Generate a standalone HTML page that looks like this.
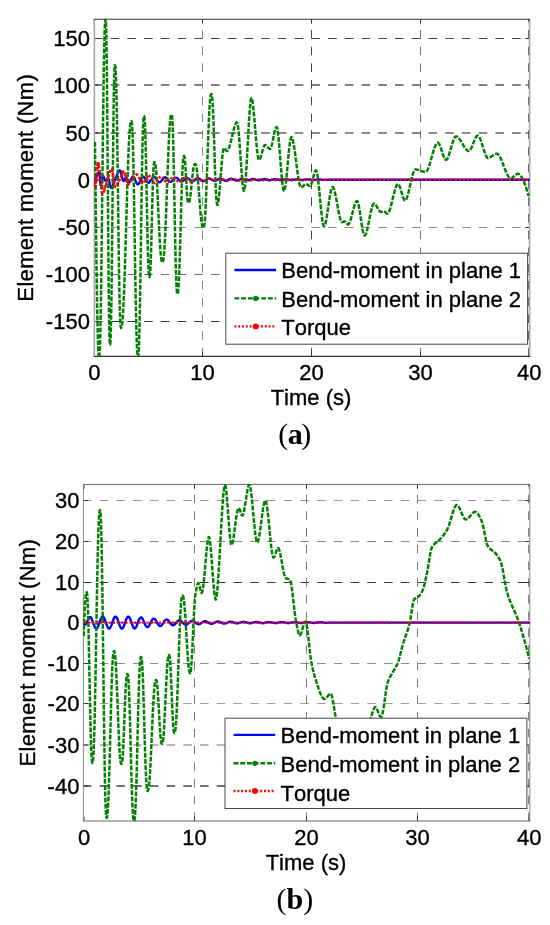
<!DOCTYPE html>
<html lang="en"><head><meta charset="utf-8"><title>Element moment</title>
<style>
html,body{margin:0;padding:0;background:#fff}
svg{display:block}
text{font-family:"Liberation Sans",Arial,Helvetica,sans-serif;fill:#000;stroke:#000;stroke-width:.35px;font-kerning:none}
.tl{font-size:22px}
.lg{font-size:22px}
.ax{font-size:22px}
.cap{font-family:"Liberation Serif","Times New Roman",serif;font-size:30px;stroke:none}
.grid{stroke-dasharray:8.6 8.13;fill:none}
.tick{stroke:#333;stroke-width:1}
.side{stroke:#a8a8a8;stroke-width:1.6}
.edge{stroke:#333;stroke-width:1.1}
.g{fill:none;stroke:#058005;stroke-width:2.5;stroke-dasharray:4.8 1.4;stroke-linejoin:round}
.b{fill:none;stroke:#0000ff;stroke-width:2.4;stroke-linejoin:round}
.r{fill:none;stroke:#ff0000;stroke-width:2.4;stroke-dasharray:2.2 2;stroke-linejoin:round}
</style></head><body>
<svg width="550" height="925" viewBox="0 0 550 925">
<rect width="550" height="925" fill="#fff"/>

<clipPath id="ct"><rect x="93.8" y="18.6" width="436.4" height="338.4"/></clipPath>
<line x1="93.9" y1="38.5" x2="529.6" y2="38.5" class="grid" stroke="#444" stroke-width="1"/>
<line x1="93.9" y1="85.0" x2="529.6" y2="85.0" class="grid" stroke="#5a5a5a" stroke-width="1.3"/>
<line x1="93.9" y1="133.0" x2="529.6" y2="133.0" class="grid" stroke="#666" stroke-width="1.3"/>
<line x1="93.9" y1="180.0" x2="529.6" y2="180.0" class="grid" stroke="#4a4a4a" stroke-width="1"/>
<line x1="93.9" y1="227.5" x2="529.6" y2="227.5" class="grid" stroke="#8c8c8c" stroke-width="1"/>
<line x1="93.9" y1="274.5" x2="529.6" y2="274.5" class="grid" stroke="#707070" stroke-width="1"/>
<line x1="93.9" y1="321.5" x2="529.6" y2="321.5" class="grid" stroke="#383838" stroke-width="1"/>
<line x1="202.5" y1="356.4" x2="202.5" y2="19.2" class="grid" stroke="#888" stroke-width="1"/>
<line x1="311.5" y1="356.4" x2="311.5" y2="19.2" class="grid" stroke="#444" stroke-width="1"/>
<line x1="420.5" y1="356.4" x2="420.5" y2="19.2" class="grid" stroke="#777" stroke-width="1"/>
<line x1="528.6" y1="356.4" x2="528.6" y2="19.2" class="grid" stroke="#555" stroke-width="1"/>
<line x1="94.4" y1="38.5" x2="98.80000000000001" y2="38.5" class="tick"/>
<line x1="529.6" y1="38.5" x2="525.2" y2="38.5" class="tick"/>
<text x="89.9" y="46.1" text-anchor="end" class="tl">150</text>
<line x1="94.4" y1="85.0" x2="98.80000000000001" y2="85.0" class="tick"/>
<line x1="529.6" y1="85.0" x2="525.2" y2="85.0" class="tick"/>
<text x="89.9" y="92.6" text-anchor="end" class="tl">100</text>
<line x1="94.4" y1="133.0" x2="98.80000000000001" y2="133.0" class="tick"/>
<line x1="529.6" y1="133.0" x2="525.2" y2="133.0" class="tick"/>
<text x="89.9" y="140.6" text-anchor="end" class="tl">50</text>
<line x1="94.4" y1="180.0" x2="98.80000000000001" y2="180.0" class="tick"/>
<line x1="529.6" y1="180.0" x2="525.2" y2="180.0" class="tick"/>
<text x="89.9" y="187.6" text-anchor="end" class="tl">0</text>
<line x1="94.4" y1="227.5" x2="98.80000000000001" y2="227.5" class="tick"/>
<line x1="529.6" y1="227.5" x2="525.2" y2="227.5" class="tick"/>
<text x="89.9" y="235.1" text-anchor="end" class="tl">-50</text>
<line x1="94.4" y1="274.5" x2="98.80000000000001" y2="274.5" class="tick"/>
<line x1="529.6" y1="274.5" x2="525.2" y2="274.5" class="tick"/>
<text x="89.9" y="282.1" text-anchor="end" class="tl">-100</text>
<line x1="94.4" y1="321.5" x2="98.80000000000001" y2="321.5" class="tick"/>
<line x1="529.6" y1="321.5" x2="525.2" y2="321.5" class="tick"/>
<text x="89.9" y="329.1" text-anchor="end" class="tl">-150</text>
<line x1="94.3" y1="356.4" x2="94.3" y2="352.0" class="tick"/>
<line x1="94.3" y1="19.2" x2="94.3" y2="23.6" class="tick"/>
<text x="94.3" y="380.0" text-anchor="middle" class="tl">0</text>
<line x1="202.5" y1="356.4" x2="202.5" y2="352.0" class="tick"/>
<line x1="202.5" y1="19.2" x2="202.5" y2="23.6" class="tick"/>
<text x="202.5" y="380.0" text-anchor="middle" class="tl">10</text>
<line x1="311.5" y1="356.4" x2="311.5" y2="352.0" class="tick"/>
<line x1="311.5" y1="19.2" x2="311.5" y2="23.6" class="tick"/>
<text x="311.5" y="380.0" text-anchor="middle" class="tl">20</text>
<line x1="420.5" y1="356.4" x2="420.5" y2="352.0" class="tick"/>
<line x1="420.5" y1="19.2" x2="420.5" y2="23.6" class="tick"/>
<text x="420.5" y="380.0" text-anchor="middle" class="tl">30</text>
<line x1="529.2" y1="356.4" x2="529.2" y2="352.0" class="tick"/>
<line x1="529.2" y1="19.2" x2="529.2" y2="23.6" class="tick"/>
<text x="529.2" y="380.0" text-anchor="middle" class="tl">40</text>
<line x1="94.4" y1="19.2" x2="94.4" y2="356.4" stroke="#a8a8a8" stroke-width="1.6"/>
<line x1="529.6" y1="19.2" x2="529.6" y2="356.4" stroke="#a8a8a8" stroke-width="1.6"/>
<line x1="93.9" y1="19.2" x2="530.1" y2="19.2" stroke="#333" stroke-width="1.1"/>
<line x1="93.9" y1="356.4" x2="530.1" y2="356.4" stroke="#333" stroke-width="1.1"/>
<g clip-path="url(#ct)">
<path class="b" d="M94.4,180.0 L94.8,179.5 L95.2,178.9 L95.6,178.4 L96.0,177.7 L96.4,177.1 L96.8,176.4 L97.2,175.6 L97.6,174.6 L98.0,173.4 L98.4,172.3 L98.8,171.5 L99.2,171.0 L99.6,172.7 L100.0,178.3 L100.4,183.8 L100.8,185.4 L101.2,184.3 L101.6,182.3 L102.0,179.8 L102.4,177.6 L102.8,176.2 L103.2,176.1 L103.6,176.7 L104.0,177.8 L104.4,178.9 L104.8,180.0 L105.2,180.8 L105.6,181.0 L106.0,180.7 L106.4,180.1 L106.8,179.4 L107.2,178.7 L107.6,178.2 L108.0,178.0 L108.4,178.5 L108.8,179.7 L109.2,181.4 L109.6,183.3 L110.0,185.2 L110.4,186.7 L110.8,187.6 L111.2,187.7 L111.6,187.4 L112.0,186.9 L112.4,186.2 L112.8,185.3 L113.2,184.3 L113.6,183.3 L114.0,182.2 L114.4,181.1 L114.8,180.1 L115.2,179.1 L115.6,178.3 L116.0,177.4 L116.4,176.5 L116.8,175.5 L117.2,174.4 L117.6,173.5 L118.0,172.5 L118.4,171.7 L118.8,171.1 L119.2,170.6 L119.6,170.3 L120.0,170.4 L120.4,171.0 L120.8,172.1 L121.2,173.6 L121.6,175.2 L122.0,176.9 L122.4,178.5 L122.8,179.8 L123.2,180.7 L123.6,181.0 L124.0,180.7 L124.4,180.1 L124.8,179.2 L125.2,178.4 L125.6,177.8 L126.0,177.5 L126.4,177.7 L126.8,178.4 L127.2,179.3 L127.6,180.2 L128.0,181.2 L128.4,182.0 L128.8,182.4 L129.2,182.5 L129.6,182.1 L130.0,181.6 L130.4,180.8 L130.8,179.9 L131.2,179.1 L131.6,178.2 L132.0,177.4 L132.4,176.9 L132.8,176.5 L133.2,176.5 L133.6,176.8 L134.0,177.4 L134.4,178.1 L134.8,179.0 L135.2,180.0 L135.6,180.9 L136.0,181.9 L136.4,182.8 L136.8,183.5 L137.2,184.1 L137.6,184.4 L138.0,184.4 L138.4,184.1 L138.8,183.7 L139.2,183.0 L139.6,182.3 L140.0,181.5 L140.4,180.6 L140.8,179.7 L141.2,178.9 L141.6,178.2 L142.0,177.5 L142.4,177.1 L142.8,176.8 L143.2,176.8 L143.6,177.0 L144.0,177.3 L144.4,177.8 L144.8,178.3 L145.2,178.9 L145.6,179.5 L146.0,180.2 L146.4,180.8 L146.8,181.4 L147.2,181.9 L147.6,182.3 L148.0,182.6 L148.4,182.7 L148.8,182.7 L149.2,182.4 L149.6,182.1 L150.0,181.6 L150.4,181.1 L150.8,180.5 L151.2,179.9 L151.6,179.3 L152.0,178.7 L152.4,178.1 L152.8,177.6 L153.2,177.3 L153.6,177.0 L154.0,176.9 L154.4,177.0 L154.8,177.2 L155.2,177.6 L155.6,178.0 L156.0,178.5 L156.4,179.1 L156.8,179.7 L157.2,180.2 L157.6,180.8 L158.0,181.3 L158.4,181.7 L158.8,182.0 L159.2,182.2 L159.6,182.3 L160.0,182.1 L160.4,181.9 L160.8,181.6 L161.2,181.1 L161.6,180.7 L162.0,180.1 L162.4,179.6 L162.8,179.1 L163.2,178.6 L163.6,178.1 L164.0,177.8 L164.4,177.5 L164.8,177.3 L165.2,177.3 L165.6,177.5 L166.0,177.7 L166.4,178.1 L166.8,178.5 L167.2,178.9 L167.6,179.4 L168.0,179.9 L168.4,180.4 L168.8,180.9 L169.2,181.2 L169.6,181.6 L170.0,181.8 L170.4,181.9 L170.8,181.9 L171.2,181.7 L171.6,181.5 L172.0,181.1 L172.4,180.7 L172.8,180.3 L173.2,179.8 L173.6,179.4 L174.0,178.9 L174.4,178.5 L174.8,178.2 L175.2,177.9 L175.6,177.7 L176.0,177.7 L176.4,177.7 L176.8,177.9 L177.2,178.2 L177.6,178.5 L178.0,178.8 L178.4,179.3 L178.8,179.7 L179.2,180.1 L179.6,180.5 L180.0,180.9 L180.4,181.2 L180.8,181.4 L181.2,181.5 L181.6,181.6 L182.0,181.5 L182.4,181.3 L182.8,181.1 L183.2,180.8 L183.6,180.4 L184.0,180.0 L184.4,179.6 L184.8,179.2 L185.2,178.9 L185.6,178.6 L186.0,178.3 L186.4,178.1 L186.8,178.0 L187.2,178.0 L187.6,178.1 L188.0,178.3 L188.4,178.5 L188.8,178.8 L189.2,179.1 L189.6,179.5 L190.0,179.9 L190.4,180.2 L190.8,180.5 L191.2,180.8 L191.6,181.1 L192.0,181.2 L192.4,181.3 L192.8,181.3 L193.2,181.2 L193.6,181.0 L194.0,180.7 L194.4,180.5 L194.8,180.1 L195.2,179.8 L195.6,179.5 L196.0,179.1 L196.4,178.9 L196.8,178.6 L197.2,178.4 L197.6,178.3 L198.0,178.2 L198.4,178.3 L198.8,178.4 L199.2,178.6 L199.6,178.8 L200.0,179.1 L200.4,179.4 L200.8,179.7 L201.2,180.0 L201.6,180.3 L202.0,180.5 L202.4,180.8 L202.8,180.9 L203.2,181.0 L203.6,181.1 L204.0,181.0 L204.4,180.9 L204.8,180.7 L205.2,180.5 L205.6,180.2 L206.0,179.9 L206.4,179.6 L206.8,179.4 L207.2,179.1 L207.6,178.9 L208.0,178.7 L208.4,178.5 L208.8,178.4 L209.2,178.4 L209.6,178.5 L210.0,178.6 L210.4,178.8 L210.8,179.0 L211.2,179.3 L211.6,179.6 L212.0,179.8 L212.4,180.1 L212.8,180.3 L213.2,180.5 L213.6,180.7 L214.0,180.8 L214.4,180.9 L214.8,180.8 L215.2,180.8 L215.6,180.6 L216.0,180.5 L216.4,180.2 L216.8,180.0 L217.2,179.8 L217.6,179.5 L218.0,179.3 L218.4,179.1 L218.8,178.9 L219.2,178.7 L219.6,178.7 L220.0,178.6 L220.4,178.7 L220.8,178.7 L221.2,178.9 L221.6,179.0 L222.0,179.2 L222.4,179.5 L222.8,179.7 L223.2,179.9 L223.6,180.1 L224.0,180.3 L224.4,180.5 L224.8,180.6 L225.2,180.7 L225.6,180.7 L226.0,180.7 L226.4,180.6 L226.8,180.4 L227.2,180.3 L227.6,180.1 L228.0,179.9 L228.4,179.7 L228.8,179.5 L229.2,179.3 L229.6,179.1 L230.0,178.9 L230.4,178.8 L230.8,178.8 L231.2,178.8 L231.6,178.8 L232.0,178.9 L232.4,179.1 L232.8,179.2 L233.2,179.4 L233.6,179.6 L234.0,179.8 L234.4,180.0 L234.8,180.1 L235.2,180.3 L235.6,180.4 L236.0,180.5 L236.4,180.6 L236.8,180.5 L237.2,180.5 L237.6,180.4 L238.0,180.3 L238.4,180.1 L238.8,179.9 L239.2,179.8 L239.6,179.6 L240.0,179.4 L240.4,179.2 L240.8,179.1 L241.2,179.0 L241.6,178.9 L242.0,178.9 L242.4,178.9 L242.8,179.0 L243.2,179.1 L243.6,179.2 L244.0,179.4 L244.4,179.5 L244.8,179.7 L245.2,179.9 L245.6,180.0 L246.0,180.2 L246.4,180.3 L246.8,180.4 L247.2,180.4 L247.6,180.4 L248.0,180.4 L248.4,180.3 L248.8,180.2 L249.2,180.1 L249.6,180.0 L250.0,179.8 L250.4,179.7 L250.8,179.5 L251.2,179.4 L251.6,179.3 L252.0,179.1 L252.4,179.1 L252.8,179.0 L253.2,179.0 L253.6,179.1 L254.0,179.1 L254.4,179.2 L254.8,179.4 L255.2,179.5 L255.6,179.6 L256.0,179.8 L256.4,179.9 L256.8,180.0 L257.2,180.1 L257.6,180.2 L258.0,180.3 L258.4,180.3 L258.8,180.3 L259.2,180.3 L259.6,180.2 L260.0,180.1 L260.4,180.0 L260.8,179.9 L261.2,179.7 L261.6,179.6 L262.0,179.5 L262.4,179.4 L262.8,179.3 L263.2,179.2 L263.6,179.1 L264.0,179.1 L264.4,179.1 L264.8,179.2 L265.2,179.3 L265.6,179.4 L266.0,179.5 L266.4,179.6 L266.8,179.7 L267.2,179.8 L267.6,179.9 L268.0,180.0 L268.4,180.1 L268.8,180.2 L269.2,180.2 L269.6,180.2 L270.0,180.2 L270.4,180.2 L270.8,180.1 L271.2,180.0 L271.6,179.9 L272.0,179.8 L272.4,179.7 L272.8,179.6 L273.2,179.5 L273.6,179.4 L274.0,179.3 L274.4,179.2 L274.8,179.2 L275.2,179.2 L275.6,179.2 L276.0,179.3 L276.4,179.4 L276.8,179.4 L277.2,179.5 L277.6,179.6 L278.0,179.7 L278.4,179.8 L278.8,179.9 L279.2,180.0 L279.6,180.1 L280.0,180.1 L280.4,180.2 L280.8,180.1 L281.2,180.1 L281.6,180.1 L282.0,180.0 L282.4,179.9 L282.8,179.8 L283.2,179.7 L283.6,179.6 L284.0,179.5 L284.4,179.5 L284.8,179.4 L285.2,179.3 L285.6,179.3 L286.0,179.3 L286.4,179.3 L286.8,179.3 L287.2,179.4 L287.6,179.4 L288.0,179.5 L288.4,179.6 L288.8,179.7 L289.2,179.8 L289.6,179.9 L290.0,179.9 L290.4,180.0 L290.8,180.1 L291.2,180.1 L291.6,180.1 L292.0,180.1 L292.4,180.0 L292.8,180.0 L293.2,179.9 L293.6,179.8 L294.0,179.8 L294.4,179.7 L294.8,179.6 L295.2,179.5 L295.6,179.5 L296.0,179.4 L296.4,179.4 L296.8,179.3 L297.2,179.3 L297.6,179.4 L298.0,179.4 L298.4,179.5 L298.8,179.5 L299.2,179.6 L299.6,179.7 L300.0,179.7 L300.4,179.8 L300.8,179.9 L301.2,179.9 L301.6,180.0 L302.0,180.0 L302.4,180.0 L302.8,180.0 L303.2,180.0 L303.6,180.0 L304.0,179.9 L304.4,179.9 L304.8,179.8 L305.2,179.7 L305.6,179.7 L306.0,179.6 L306.4,179.5 L306.8,179.5 L307.2,179.4 L307.6,179.4 L308.0,179.4 L308.4,179.4 L308.8,179.4 L309.2,179.5 L309.6,179.5 L310.0,179.6 L310.4,179.6 L310.8,179.7 L311.2,179.8 L311.6,179.8 L312.0,179.9 L312.4,179.9 L312.8,180.0 L313.2,180.0 L313.6,180.0 L314.0,180.0 L314.4,179.9 L314.8,179.9 L315.2,179.9 L315.6,179.8 L316.0,179.7 L316.4,179.7 L316.8,179.6 L317.2,179.6 L317.6,179.5 L318.0,179.5 L318.4,179.5 L318.8,179.4 L319.2,179.4 L319.6,179.5 L320.0,179.5 L320.4,179.5 L320.8,179.6 L321.2,179.6 L321.6,179.7 L322.0,179.7 L322.4,179.8 L322.8,179.8 L323.2,179.9 L323.6,179.9 L324.0,179.9 L324.4,179.9 L324.8,179.9 L325.2,179.9 L325.6,179.9 L326.0,179.9 L326.4,179.9 L326.8,179.9 L327.2,179.9 L327.6,179.8 L328.0,179.8 L328.4,179.8 L328.8,179.8 L329.2,179.7 L329.6,179.7 L330.0,179.7 L330.4,179.7 L330.8,179.7 L529.6,179.7"/>
<path class="g" d="M95.0,142.0 L95.4,178.4 L95.8,212.5 L96.2,243.8 L96.6,272.0 L97.0,296.9 L97.4,318.0 L97.8,335.0 L98.2,347.5 L98.6,355.3 L99.0,358.0 L99.4,356.4 L99.8,350.4 L100.2,338.5 L100.6,320.3 L101.0,296.0 L101.4,266.5 L101.8,233.2 L102.2,197.5 L102.6,161.5 L103.0,126.8 L103.4,95.2 L103.8,68.2 L104.2,46.8 L104.6,31.8 L105.0,22.9 L105.4,19.3 L105.8,19.8 L106.2,28.6 L106.6,50.3 L107.0,85.3 L107.4,130.8 L107.8,182.0 L108.2,233.2 L108.6,278.7 L109.0,313.7 L109.4,335.4 L109.8,344.2 L110.2,344.5 L110.6,338.9 L111.0,324.9 L111.4,302.0 L111.8,271.0 L112.2,234.4 L112.6,195.1 L113.0,156.8 L113.4,122.6 L113.8,95.5 L114.2,77.0 L114.6,67.4 L115.0,65.0 L115.4,66.5 L115.8,72.4 L116.2,83.9 L116.6,101.3 L117.0,124.1 L117.4,151.2 L117.8,181.1 L118.2,211.9 L118.6,241.8 L119.0,268.9 L119.4,291.7 L119.8,309.1 L120.2,320.6 L120.6,326.5 L121.0,328.0 L121.4,327.7 L121.8,326.4 L122.2,323.9 L122.6,319.9 L123.0,314.4 L123.4,307.4 L123.8,298.8 L124.2,288.9 L124.6,277.6 L125.0,265.3 L125.4,252.2 L125.8,238.5 L126.2,224.5 L126.6,210.5 L127.0,196.8 L127.4,183.7 L127.8,171.4 L128.2,160.1 L128.6,150.2 L129.0,141.6 L129.4,134.6 L129.8,129.1 L130.2,125.1 L130.6,122.6 L131.0,121.3 L131.4,121.0 L131.8,122.1 L132.2,126.3 L132.6,134.6 L133.0,147.3 L133.4,164.2 L133.8,184.7 L134.2,207.9 L134.6,232.7 L135.0,257.8 L135.4,282.0 L135.8,304.0 L136.2,322.8 L136.6,337.6 L137.0,348.1 L137.4,354.3 L137.8,356.8 L138.2,356.7 L138.6,353.5 L139.0,345.7 L139.4,332.4 L139.8,313.9 L140.2,290.8 L140.6,264.5 L141.0,236.5 L141.4,208.5 L141.8,182.2 L142.2,159.1 L142.6,140.6 L143.0,127.3 L143.4,119.5 L143.8,116.3 L144.2,116.2 L144.6,119.0 L145.0,125.7 L145.4,136.8 L145.8,152.2 L146.2,170.7 L146.6,191.2 L147.0,212.2 L147.4,231.9 L147.8,249.0 L148.2,262.3 L148.6,271.2 L149.0,275.8 L149.4,277.0 L149.8,276.0 L150.2,272.1 L150.6,264.5 L151.0,253.3 L151.4,239.3 L151.8,223.5 L152.2,207.4 L152.6,192.4 L153.0,179.7 L153.4,170.3 L153.8,164.5 L154.2,162.2 L154.6,162.1 L155.0,162.7 L155.4,164.4 L155.8,167.3 L156.2,171.4 L156.6,176.8 L157.0,183.4 L157.4,190.9 L157.8,199.1 L158.2,207.8 L158.6,216.6 L159.0,225.3 L159.4,233.5 L159.8,241.0 L160.2,247.6 L160.6,253.0 L161.0,257.1 L161.4,260.0 L161.8,261.7 L162.2,262.3 L162.6,262.3 L163.0,261.6 L163.4,259.8 L163.8,256.8 L164.2,252.3 L164.6,246.4 L165.0,239.2 L165.4,230.7 L165.8,221.1 L166.2,210.7 L166.6,199.7 L167.0,188.4 L167.4,177.1 L167.8,166.1 L168.2,155.7 L168.6,146.1 L169.0,137.6 L169.4,130.4 L169.8,124.5 L170.2,120.0 L170.6,117.0 L171.0,115.2 L171.4,114.5 L171.8,114.6 L172.2,117.2 L172.6,123.5 L173.0,134.2 L173.4,149.0 L173.8,167.3 L174.2,187.9 L174.6,209.7 L175.0,231.0 L175.4,250.6 L175.8,267.3 L176.2,280.1 L176.6,288.6 L177.0,292.9 L177.4,294.0 L177.8,293.4 L178.2,290.9 L178.6,286.1 L179.0,278.6 L179.4,268.8 L179.8,256.8 L180.2,243.2 L180.6,228.7 L181.0,214.0 L181.4,199.9 L181.8,187.0 L182.2,176.0 L182.6,167.3 L183.0,161.2 L183.4,157.6 L183.8,156.1 L184.2,156.1 L184.6,157.4 L185.0,160.5 L185.4,165.6 L185.8,172.1 L186.2,179.5 L186.6,186.9 L187.0,193.4 L187.4,198.5 L187.8,201.6 L188.2,202.9 L188.6,203.0 L189.0,202.5 L189.4,201.5 L189.8,199.8 L190.2,197.3 L190.6,194.2 L191.0,190.6 L191.4,186.6 L191.8,182.5 L192.2,178.4 L192.6,174.5 L193.0,171.1 L193.4,168.3 L193.8,166.2 L194.2,164.9 L194.6,164.2 L195.0,164.0 L195.4,164.2 L195.8,164.8 L196.2,166.1 L196.6,168.1 L197.0,170.8 L197.4,174.3 L197.8,178.4 L198.2,183.0 L198.6,188.0 L199.0,193.3 L199.4,198.7 L199.8,204.0 L200.2,209.0 L200.6,213.6 L201.0,217.7 L201.4,221.2 L201.8,223.9 L202.2,225.9 L202.6,227.2 L203.0,227.8 L203.4,228.0 L203.8,227.6 L204.2,226.1 L204.6,223.1 L205.0,218.4 L205.4,212.0 L205.8,204.0 L206.2,194.6 L206.6,184.1 L207.0,172.7 L207.4,161.0 L207.8,149.3 L208.2,137.9 L208.6,127.4 L209.0,118.0 L209.4,110.0 L209.8,103.6 L210.2,98.9 L210.6,95.9 L211.0,94.4 L211.4,94.0 L211.8,94.6 L212.2,97.1 L212.6,102.0 L213.0,109.3 L213.4,118.9 L213.8,130.4 L214.2,143.0 L214.6,156.0 L215.0,168.6 L215.4,180.1 L215.8,189.7 L216.2,197.0 L216.6,201.9 L217.0,204.4 L217.4,205.0 L217.8,204.4 L218.2,202.7 L218.6,200.0 L219.0,196.6 L219.4,192.5 L219.8,187.9 L220.2,182.9 L220.6,177.8 L221.0,172.6 L221.4,167.6 L221.8,162.8 L222.2,158.4 L222.6,154.6 L223.0,151.5 L223.4,149.3 L223.8,148.2 L224.2,148.0 L224.6,148.3 L225.0,148.8 L225.4,149.4 L225.8,149.9 L226.2,150.5 L226.6,150.9 L227.0,151.0 L227.4,150.9 L227.8,150.5 L228.2,149.9 L228.6,149.0 L229.0,148.0 L229.4,146.8 L229.8,145.5 L230.2,144.1 L230.6,142.5 L231.0,140.9 L231.4,139.3 L231.8,137.6 L232.2,135.8 L232.6,134.1 L233.0,132.5 L233.4,130.9 L233.8,129.3 L234.2,127.9 L234.6,126.6 L235.0,125.4 L235.4,124.4 L235.8,123.5 L236.2,122.9 L236.6,122.5 L237.0,122.4 L237.4,123.0 L237.8,124.9 L238.2,127.8 L238.6,131.5 L239.0,136.0 L239.4,141.1 L239.8,146.5 L240.2,152.3 L240.6,158.2 L241.0,164.0 L241.4,169.6 L241.8,174.9 L242.2,179.7 L242.6,183.9 L243.0,187.2 L243.4,189.6 L243.8,190.8 L244.2,190.8 L244.6,189.3 L245.0,186.4 L245.4,182.3 L245.8,177.2 L246.2,171.2 L246.6,164.6 L247.0,157.5 L247.4,150.1 L247.8,142.6 L248.2,135.1 L248.6,127.9 L249.0,121.0 L249.4,114.7 L249.8,109.2 L250.2,104.5 L250.6,101.0 L251.0,98.8 L251.4,98.0 L251.8,98.5 L252.2,99.9 L252.6,102.1 L253.0,105.1 L253.4,108.6 L253.8,112.6 L254.2,117.0 L254.6,121.7 L255.0,126.6 L255.4,131.4 L255.8,136.3 L256.2,141.0 L256.6,145.4 L257.0,149.4 L257.4,152.9 L257.8,155.9 L258.2,158.1 L258.6,159.5 L259.0,160.0 L259.4,159.8 L259.8,159.3 L260.2,158.4 L260.6,157.4 L261.0,156.1 L261.4,154.7 L261.8,153.2 L262.2,151.8 L262.6,150.3 L263.0,148.9 L263.4,147.6 L263.8,146.6 L264.2,145.7 L264.6,145.2 L265.0,145.0 L265.4,145.1 L265.8,145.3 L266.2,145.6 L266.6,146.0 L267.0,146.4 L267.4,146.9 L267.8,147.4 L268.2,147.8 L268.6,148.2 L269.0,148.6 L269.4,148.8 L269.8,149.0 L270.2,148.9 L270.6,148.5 L271.0,147.6 L271.4,146.5 L271.8,145.0 L272.2,143.3 L272.6,141.4 L273.0,139.5 L273.4,137.5 L273.8,135.5 L274.2,133.6 L274.6,131.8 L275.0,130.3 L275.4,128.9 L275.8,127.9 L276.2,127.2 L276.6,127.0 L277.0,127.5 L277.4,129.1 L277.8,131.5 L278.2,134.7 L278.6,138.5 L279.0,142.8 L279.4,147.6 L279.8,152.6 L280.2,157.7 L280.6,162.9 L281.0,168.0 L281.4,172.8 L281.8,177.4 L282.2,181.5 L282.6,185.0 L283.0,187.8 L283.4,189.8 L283.8,190.9 L284.2,190.9 L284.6,190.0 L285.0,188.3 L285.4,185.9 L285.8,183.0 L286.2,179.5 L286.6,175.7 L287.0,171.6 L287.4,167.3 L287.8,162.9 L288.2,158.6 L288.6,154.3 L289.0,150.4 L289.4,146.7 L289.8,143.5 L290.2,140.8 L290.6,138.8 L291.0,137.5 L291.4,137.0 L291.8,137.3 L292.2,138.0 L292.6,139.2 L293.0,140.7 L293.4,142.7 L293.8,144.9 L294.2,147.4 L294.6,150.1 L295.0,152.9 L295.4,156.0 L295.8,159.1 L296.2,162.2 L296.6,165.3 L297.0,168.4 L297.4,171.5 L297.8,174.3 L298.2,177.0 L298.6,179.5 L299.0,181.7 L299.4,183.7 L299.8,185.2 L300.2,186.4 L300.6,187.1 L301.0,187.4 L301.4,187.3 L301.8,187.2 L302.2,186.9 L302.6,186.6 L303.0,186.2 L303.4,185.8 L303.8,185.4 L304.2,185.0 L304.6,184.7 L305.0,184.4 L305.4,184.1 L305.8,184.0 L306.2,184.0 L306.6,184.1 L307.0,184.3 L307.4,184.6 L307.8,184.9 L308.2,185.1 L308.6,185.4 L309.0,185.7 L309.4,185.9 L309.8,186.0 L310.2,185.9 L310.6,185.6 L311.0,184.8 L311.4,183.8 L311.8,182.6 L312.2,181.2 L312.6,179.8 L313.0,178.2 L313.4,176.6 L313.8,175.2 L314.2,173.8 L314.6,172.6 L315.0,171.6 L315.4,170.8 L315.8,170.5 L316.2,170.5 L316.6,171.3 L317.0,172.8 L317.4,174.9 L317.8,177.6 L318.2,180.8 L318.6,184.3 L319.0,188.1 L319.4,192.1 L319.8,196.3 L320.2,200.5 L320.6,204.7 L321.0,208.7 L321.4,212.5 L321.8,216.0 L322.2,219.2 L322.6,221.9 L323.0,224.0 L323.4,225.5 L323.8,226.3 L324.2,226.3 L324.6,225.9 L325.0,224.9 L325.4,223.6 L325.8,221.9 L326.2,220.0 L326.6,217.8 L327.0,215.4 L327.4,212.8 L327.8,210.1 L328.2,207.4 L328.6,204.6 L329.0,201.9 L329.4,199.3 L329.8,196.8 L330.2,194.5 L330.6,192.4 L331.0,190.6 L331.4,189.1 L331.8,188.0 L332.2,187.2 L332.6,187.0 L333.0,187.2 L333.4,187.7 L333.8,188.6 L334.2,189.7 L334.6,191.1 L335.0,192.7 L335.4,194.5 L335.8,196.4 L336.2,198.5 L336.6,200.6 L337.0,202.8 L337.4,205.1 L337.8,207.3 L338.2,209.5 L338.6,211.6 L339.0,213.6 L339.4,215.4 L339.8,217.1 L340.2,218.6 L340.6,219.9 L341.0,220.9 L341.4,221.6 L341.8,222.0 L342.2,222.0 L342.6,221.9 L343.0,221.9 L343.4,221.8 L343.8,221.7 L344.2,221.6 L344.6,221.5 L345.0,221.5 L345.4,221.6 L345.8,222.0 L346.2,222.5 L346.6,223.1 L347.0,223.6 L347.4,224.1 L347.8,224.4 L348.2,224.4 L348.6,224.1 L349.0,223.6 L349.4,222.9 L349.8,222.0 L350.2,220.9 L350.6,219.7 L351.0,218.3 L351.4,216.9 L351.8,215.4 L352.2,213.9 L352.6,212.3 L353.0,210.8 L353.4,209.2 L353.8,207.8 L354.2,206.4 L354.6,205.1 L355.0,204.0 L355.4,203.0 L355.8,202.1 L356.2,201.5 L356.6,201.1 L357.0,201.0 L357.4,201.3 L357.8,202.1 L358.2,203.3 L358.6,205.0 L359.0,206.9 L359.4,209.2 L359.8,211.6 L360.2,214.2 L360.6,216.9 L361.0,219.7 L361.4,222.4 L361.8,225.0 L362.2,227.4 L362.6,229.7 L363.0,231.6 L363.4,233.3 L363.8,234.5 L364.2,235.3 L364.6,235.6 L365.0,235.4 L365.4,234.9 L365.8,234.2 L366.2,233.1 L366.6,231.9 L367.0,230.4 L367.4,228.8 L367.8,227.0 L368.2,225.1 L368.6,223.1 L369.0,221.1 L369.4,219.1 L369.8,217.1 L370.2,215.1 L370.6,213.1 L371.0,211.3 L371.4,209.6 L371.8,208.0 L372.2,206.7 L372.6,205.5 L373.0,204.6 L373.4,204.0 L373.8,203.6 L374.2,203.6 L374.6,203.8 L375.0,204.1 L375.4,204.5 L375.8,205.0 L376.2,205.6 L376.6,206.2 L377.0,206.9 L377.4,207.6 L377.8,208.3 L378.2,209.0 L378.6,209.7 L379.0,210.3 L379.4,210.9 L379.8,211.3 L380.2,211.7 L380.6,211.9 L381.0,212.0 L381.4,212.0 L381.8,211.9 L382.2,211.8 L382.6,211.7 L383.0,211.6 L383.4,211.6 L383.8,211.5 L384.2,211.5 L384.6,211.7 L385.0,211.9 L385.4,212.3 L385.8,212.6 L386.2,213.0 L386.6,213.3 L387.0,213.5 L387.4,213.6 L387.8,213.5 L388.2,213.1 L388.6,212.5 L389.0,211.8 L389.4,210.8 L389.8,209.7 L390.2,208.5 L390.6,207.1 L391.0,205.7 L391.4,204.1 L391.8,202.5 L392.2,200.9 L392.6,199.2 L393.0,197.5 L393.4,195.9 L393.8,194.3 L394.2,192.7 L394.6,191.2 L395.0,189.8 L395.4,188.5 L395.8,187.3 L396.2,186.3 L396.6,185.4 L397.0,184.7 L397.4,184.3 L397.8,184.0 L398.2,184.0 L398.6,184.3 L399.0,184.9 L399.4,185.7 L399.8,186.7 L400.2,187.9 L400.6,189.1 L401.0,190.5 L401.4,191.9 L401.8,193.3 L402.2,194.7 L402.6,196.0 L403.0,197.2 L403.4,198.3 L403.8,199.2 L404.2,199.9 L404.6,200.3 L405.0,200.5 L405.4,200.4 L405.8,200.0 L406.2,199.4 L406.6,198.5 L407.0,197.5 L407.4,196.3 L407.8,195.0 L408.2,193.5 L408.6,191.9 L409.0,190.2 L409.4,188.5 L409.8,186.7 L410.2,184.9 L410.6,183.2 L411.0,181.4 L411.4,179.7 L411.8,178.0 L412.2,176.4 L412.6,174.9 L413.0,173.6 L413.4,172.4 L413.8,171.4 L414.2,170.5 L414.6,169.9 L415.0,169.5 L415.4,169.4 L415.8,169.4 L416.2,169.4 L416.6,169.5 L417.0,169.6 L417.4,169.7 L417.8,169.8 L418.2,169.9 L418.6,170.0 L419.0,170.2 L419.4,170.3 L419.8,170.5 L420.2,170.6 L420.6,170.8 L421.0,170.9 L421.4,171.1 L421.8,171.2 L422.2,171.3 L422.6,171.5 L423.0,171.6 L423.4,171.7 L423.8,171.8 L424.2,171.9 L424.6,171.9 L425.0,172.0 L425.4,172.0 L425.8,171.9 L426.2,171.7 L426.6,171.3 L427.0,170.8 L427.4,170.1 L427.8,169.3 L428.2,168.4 L428.6,167.4 L429.0,166.2 L429.4,165.0 L429.8,163.8 L430.2,162.4 L430.6,161.1 L431.0,159.7 L431.4,158.2 L431.8,156.8 L432.2,155.4 L432.6,154.0 L433.0,152.6 L433.4,151.3 L433.8,150.0 L434.2,148.8 L434.6,147.6 L435.0,146.6 L435.4,145.6 L435.8,144.8 L436.2,144.1 L436.6,143.5 L437.0,143.1 L437.4,142.8 L437.8,142.7 L438.2,142.8 L438.6,143.2 L439.0,143.7 L439.4,144.4 L439.8,145.3 L440.2,146.2 L440.6,147.3 L441.0,148.5 L441.4,149.7 L441.8,150.9 L442.2,152.2 L442.6,153.4 L443.0,154.6 L443.4,155.7 L443.8,156.8 L444.2,157.7 L444.6,158.5 L445.0,159.1 L445.4,159.5 L445.8,159.8 L446.2,159.8 L446.6,159.6 L447.0,159.1 L447.4,158.6 L447.8,157.8 L448.2,156.9 L448.6,155.9 L449.0,154.7 L449.4,153.5 L449.8,152.2 L450.2,150.9 L450.6,149.5 L451.0,148.1 L451.4,146.7 L451.8,145.3 L452.2,144.0 L452.6,142.7 L453.0,141.5 L453.4,140.3 L453.8,139.3 L454.2,138.4 L454.6,137.6 L455.0,137.1 L455.4,136.6 L455.8,136.4 L456.2,136.4 L456.6,136.5 L457.0,136.7 L457.4,136.9 L457.8,137.2 L458.2,137.5 L458.6,138.0 L459.0,138.4 L459.4,138.9 L459.8,139.5 L460.2,140.1 L460.6,140.7 L461.0,141.3 L461.4,142.0 L461.8,142.7 L462.2,143.4 L462.6,144.0 L463.0,144.7 L463.4,145.4 L463.8,146.1 L464.2,146.7 L464.6,147.3 L465.0,147.9 L465.4,148.5 L465.8,149.0 L466.2,149.4 L466.6,149.9 L467.0,150.2 L467.4,150.5 L467.8,150.7 L468.2,150.9 L468.6,151.0 L469.0,151.0 L469.4,150.8 L469.8,150.5 L470.2,150.0 L470.6,149.4 L471.0,148.6 L471.4,147.8 L471.8,146.9 L472.2,146.0 L472.6,145.0 L473.0,143.9 L473.4,142.9 L473.8,141.9 L474.2,140.9 L474.6,139.9 L475.0,139.0 L475.4,138.2 L475.8,137.4 L476.2,136.8 L476.6,136.2 L477.0,135.9 L477.4,135.7 L477.8,135.6 L478.2,135.8 L478.6,136.1 L479.0,136.6 L479.4,137.2 L479.8,138.0 L480.2,138.9 L480.6,139.9 L481.0,141.0 L481.4,142.2 L481.8,143.4 L482.2,144.7 L482.6,146.0 L483.0,147.3 L483.4,148.6 L483.8,149.9 L484.2,151.1 L484.6,152.3 L485.0,153.4 L485.4,154.4 L485.8,155.4 L486.2,156.2 L486.6,156.9 L487.0,157.4 L487.4,157.8 L487.8,158.0 L488.2,158.0 L488.6,157.9 L489.0,157.8 L489.4,157.7 L489.8,157.5 L490.2,157.3 L490.6,157.1 L491.0,156.8 L491.4,156.6 L491.8,156.3 L492.2,156.0 L492.6,155.7 L493.0,155.4 L493.4,155.1 L493.8,154.9 L494.2,154.6 L494.6,154.4 L495.0,154.2 L495.4,154.0 L495.8,153.9 L496.2,153.8 L496.6,153.7 L497.0,153.7 L497.4,153.8 L497.8,154.1 L498.2,154.4 L498.6,154.8 L499.0,155.3 L499.4,155.9 L499.8,156.6 L500.2,157.4 L500.6,158.2 L501.0,159.0 L501.4,159.9 L501.8,160.9 L502.2,161.9 L502.6,162.9 L503.0,163.9 L503.4,165.0 L503.8,166.1 L504.2,167.1 L504.6,168.2 L505.0,169.2 L505.4,170.2 L505.8,171.2 L506.2,172.2 L506.6,173.1 L507.0,173.9 L507.4,174.7 L507.8,175.5 L508.2,176.2 L508.6,176.8 L509.0,177.3 L509.4,177.7 L509.8,178.0 L510.2,178.3 L510.6,178.4 L511.0,178.4 L511.4,178.3 L511.8,178.1 L512.2,177.9 L512.6,177.6 L513.0,177.3 L513.4,176.9 L513.8,176.5 L514.2,176.1 L514.6,175.8 L515.0,175.4 L515.4,175.0 L515.8,174.7 L516.2,174.4 L516.6,174.1 L517.0,173.9 L517.4,173.8 L517.8,173.8 L518.2,173.9 L518.6,174.0 L519.0,174.2 L519.4,174.4 L519.8,174.7 L520.2,175.1 L520.6,175.6 L521.0,176.1 L521.4,176.7 L521.8,177.3 L522.2,178.0 L522.6,178.7 L523.0,179.6 L523.4,180.4 L523.8,181.3 L524.2,182.3 L524.6,183.3 L525.0,184.4 L525.4,185.5 L525.8,186.6 L526.2,187.9 L526.6,189.1 L527.0,190.4 L527.4,191.7 L527.8,193.1 L528.2,194.5 L528.6,196.0"/>
<path class="r" d="M94.4,181.0 L94.8,183.9 L95.2,185.5 L95.6,186.0 L96.0,184.2 L96.4,179.8 L96.8,174.0 L97.2,168.2 L97.6,163.8 L98.0,162.0 L98.4,162.7 L98.8,164.8 L99.2,167.8 L99.6,171.5 L100.0,175.7 L100.4,180.0 L100.8,184.2 L101.2,187.9 L101.6,190.9 L102.0,193.0 L102.4,193.7 L102.8,193.5 L103.2,193.0 L103.6,192.2 L104.0,191.1 L104.4,189.9 L104.8,188.5 L105.2,187.1 L105.6,185.6 L106.0,184.2 L106.4,182.8 L106.8,181.6 L107.2,180.4 L107.6,179.2 L108.0,177.9 L108.4,176.5 L108.8,175.1 L109.2,173.8 L109.6,172.5 L110.0,171.4 L110.4,170.4 L110.8,169.7 L111.2,169.2 L111.6,169.0 L112.0,169.6 L112.4,171.1 L112.8,173.3 L113.2,175.9 L113.6,178.7 L114.0,181.5 L114.4,183.9 L114.8,185.8 L115.2,186.9 L115.6,187.0 L116.0,186.7 L116.4,186.3 L116.8,185.7 L117.2,185.0 L117.6,184.1 L118.0,183.3 L118.4,182.3 L118.8,181.4 L119.2,180.6 L119.6,179.8 L120.0,178.9 L120.4,177.9 L120.8,176.8 L121.2,175.7 L121.6,174.6 L122.0,173.6 L122.4,172.7 L122.8,172.0 L123.2,171.6 L123.6,171.4 L124.0,171.7 L124.4,172.5 L124.8,173.8 L125.2,175.3 L125.6,177.0 L126.0,178.8 L126.4,180.5 L126.8,182.0 L127.2,183.3 L127.6,184.1 L128.0,184.4 L128.4,184.3 L128.8,184.0 L129.2,183.6 L129.6,183.1 L130.0,182.5 L130.4,181.9 L130.8,181.2 L131.2,180.6 L131.6,180.0 L132.0,179.5 L132.4,179.0 L132.8,178.5 L133.2,178.0 L133.6,177.4 L134.0,176.8 L134.4,176.3 L134.8,175.8 L135.2,175.4 L135.6,175.1 L136.0,174.8 L136.4,174.6 L136.8,174.6 L137.2,174.8 L137.6,175.1 L138.0,175.6 L138.4,176.2 L138.8,176.9 L139.2,177.7 L139.6,178.5 L140.0,179.3 L140.4,180.1 L140.8,180.9 L141.2,181.5 L141.6,182.1 L142.0,182.5 L142.4,182.7 L142.8,182.8 L143.2,182.7 L143.6,182.4 L144.0,182.0 L144.4,181.5 L144.8,181.0 L145.2,180.3 L145.6,179.7 L146.0,179.0 L146.4,178.3 L146.8,177.7 L147.2,177.1 L147.6,176.6 L148.0,176.2 L148.4,175.9 L148.8,175.7 L149.2,175.7 L149.6,175.9 L150.0,176.3 L150.4,176.8 L150.8,177.3 L151.2,178.0 L151.6,178.8 L152.0,179.5 L152.4,180.3 L152.8,181.0 L153.2,181.7 L153.6,182.3 L154.0,182.8 L154.4,183.1 L154.8,183.3 L155.2,183.3 L155.6,183.1 L156.0,182.8 L156.4,182.4 L156.8,181.8 L157.2,181.2 L157.6,180.6 L158.0,179.9 L158.4,179.2 L158.8,178.5 L159.2,177.9 L159.6,177.4 L160.0,176.9 L160.4,176.6 L160.8,176.4 L161.2,176.4 L161.6,176.6 L162.0,176.9 L162.4,177.3 L162.8,177.8 L163.2,178.3 L163.6,178.9 L164.0,179.5 L164.4,180.2 L164.8,180.8 L165.2,181.3 L165.6,181.8 L166.0,182.2 L166.4,182.5 L166.8,182.6 L167.2,182.6 L167.6,182.5 L168.0,182.2 L168.4,181.9 L168.8,181.4 L169.2,180.9 L169.6,180.4 L170.0,179.8 L170.4,179.3 L170.8,178.7 L171.2,178.2 L171.6,177.8 L172.0,177.4 L172.4,177.2 L172.8,177.0 L173.2,177.0 L173.6,177.2 L174.0,177.4 L174.4,177.7 L174.8,178.1 L175.2,178.6 L175.6,179.1 L176.0,179.6 L176.4,180.1 L176.8,180.6 L177.2,181.0 L177.6,181.4 L178.0,181.7 L178.4,182.0 L178.8,182.1 L179.2,182.1 L179.6,182.0 L180.0,181.8 L180.4,181.5 L180.8,181.1 L181.2,180.7 L181.6,180.3 L182.0,179.8 L182.4,179.4 L182.8,178.9 L183.2,178.5 L183.6,178.1 L184.0,177.8 L184.4,177.6 L184.8,177.5 L185.2,177.5 L185.6,177.6 L186.0,177.8 L186.4,178.1 L186.8,178.4 L187.2,178.8 L187.6,179.2 L188.0,179.6 L188.4,180.0 L188.8,180.4 L189.2,180.8 L189.6,181.1 L190.0,181.4 L190.4,181.6 L190.8,181.7 L191.2,181.7 L191.6,181.6 L192.0,181.4 L192.4,181.2 L192.8,180.9 L193.2,180.5 L193.6,180.2 L194.0,179.8 L194.4,179.4 L194.8,179.1 L195.2,178.7 L195.6,178.4 L196.0,178.2 L196.4,178.0 L196.8,177.9 L197.2,177.9 L197.6,178.0 L198.0,178.2 L198.4,178.4 L198.8,178.6 L199.2,178.9 L199.6,179.3 L200.0,179.6 L200.4,180.0 L200.8,180.3 L201.2,180.6 L201.6,180.9 L202.0,181.1 L202.4,181.2 L202.8,181.3 L203.2,181.3 L203.6,181.2 L204.0,181.1 L204.4,180.9 L204.8,180.7 L205.2,180.4 L205.6,180.1 L206.0,179.8 L206.4,179.5 L206.8,179.2 L207.2,178.9 L207.6,178.7 L208.0,178.5 L208.4,178.3 L208.8,178.2 L209.2,178.2 L209.6,178.3 L210.0,178.4 L210.4,178.6 L210.8,178.8 L211.2,179.1 L211.6,179.4 L212.0,179.6 L212.4,179.9 L212.8,180.2 L213.2,180.4 L213.6,180.6 L214.0,180.8 L214.4,181.0 L214.8,181.0 L215.2,181.0 L215.6,181.0 L216.0,180.8 L216.4,180.7 L216.8,180.5 L217.2,180.3 L217.6,180.0 L218.0,179.8 L218.4,179.5 L218.8,179.3 L219.2,179.0 L219.6,178.8 L220.0,178.7 L220.4,178.6 L220.8,178.5 L221.2,178.5 L221.6,178.6 L222.0,178.7 L222.4,178.8 L222.8,179.0 L223.2,179.2 L223.6,179.4 L224.0,179.6 L224.4,179.9 L224.8,180.1 L225.2,180.3 L225.6,180.5 L226.0,180.6 L226.4,180.7 L226.8,180.8 L227.2,180.8 L227.6,180.7 L228.0,180.6 L228.4,180.5 L228.8,180.3 L229.2,180.2 L229.6,180.0 L230.0,179.8 L230.4,179.5 L230.8,179.3 L231.2,179.2 L231.6,179.0 L232.0,178.9 L232.4,178.8 L232.8,178.7 L233.2,178.7 L233.6,178.8 L234.0,178.9 L234.4,179.0 L234.8,179.1 L235.2,179.3 L235.6,179.5 L236.0,179.7 L236.4,179.8 L236.8,180.0 L237.2,180.2 L237.6,180.3 L238.0,180.5 L238.4,180.5 L238.8,180.6 L239.2,180.6 L239.6,180.5 L240.0,180.5 L240.4,180.4 L240.8,180.2 L241.2,180.1 L241.6,179.9 L242.0,179.7 L242.4,179.6 L242.8,179.4 L243.2,179.3 L243.6,179.1 L244.0,179.0 L244.4,178.9 L244.8,178.9 L245.2,178.9 L245.6,178.9 L246.0,179.0 L246.4,179.1 L246.8,179.2 L247.2,179.4 L247.6,179.5 L248.0,179.7 L248.4,179.8 L248.8,180.0 L249.2,180.1 L249.6,180.2 L250.0,180.3 L250.4,180.4 L250.8,180.4 L251.2,180.4 L251.6,180.4 L252.0,180.3 L252.4,180.2 L252.8,180.1 L253.2,180.0 L253.6,179.9 L254.0,179.7 L254.4,179.6 L254.8,179.5 L255.2,179.3 L255.6,179.2 L256.0,179.1 L256.4,179.1 L256.8,179.0 L257.2,179.0 L257.6,179.1 L258.0,179.1 L258.4,179.2 L258.8,179.3 L259.2,179.4 L259.6,179.5 L260.0,179.7 L260.4,179.8 L260.8,179.9 L261.2,180.0 L261.6,180.1 L262.0,180.2 L262.4,180.3 L262.8,180.3 L263.2,180.3 L263.6,180.3 L264.0,180.2 L264.4,180.1 L264.8,180.1 L265.2,180.0 L265.6,179.8 L266.0,179.7 L266.4,179.6 L266.8,179.5 L267.2,179.4 L267.6,179.3 L268.0,179.2 L268.4,179.2 L268.8,179.2 L269.2,179.2 L269.6,179.2 L270.0,179.2 L270.4,179.3 L270.8,179.4 L271.2,179.5 L271.6,179.6 L272.0,179.7 L272.4,179.8 L272.8,179.9 L273.2,180.0 L273.6,180.0 L274.0,180.1 L274.4,180.2 L274.8,180.2 L275.2,180.2 L275.6,180.2 L276.0,180.1 L276.4,180.1 L276.8,180.0 L277.2,179.9 L277.6,179.8 L278.0,179.7 L278.4,179.6 L278.8,179.5 L279.2,179.5 L279.6,179.4 L280.0,179.3 L280.4,179.3 L280.8,179.3 L281.2,179.3 L281.6,179.3 L282.0,179.3 L282.4,179.4 L282.8,179.4 L283.2,179.5 L283.6,179.6 L284.0,179.7 L284.4,179.8 L284.8,179.8 L285.2,179.9 L285.6,180.0 L286.0,180.0 L286.4,180.1 L286.8,180.1 L287.2,180.1 L287.6,180.1 L288.0,180.0 L288.4,180.0 L288.8,179.9 L289.2,179.9 L289.6,179.8 L290.0,179.7 L290.4,179.6 L290.8,179.6 L291.2,179.5 L291.6,179.4 L292.0,179.4 L292.4,179.4 L292.8,179.3 L293.2,179.3 L293.6,179.4 L294.0,179.4 L294.4,179.4 L294.8,179.5 L295.2,179.5 L295.6,179.6 L296.0,179.7 L296.4,179.8 L296.8,179.8 L297.2,179.9 L297.6,179.9 L298.0,180.0 L298.4,180.0 L298.8,180.0 L299.2,180.0 L299.6,180.0 L300.0,180.0 L300.4,179.9 L300.8,179.9 L301.2,179.8 L301.6,179.8 L302.0,179.7 L302.4,179.7 L302.8,179.6 L303.2,179.5 L303.6,179.5 L304.0,179.4 L304.4,179.4 L304.8,179.4 L305.2,179.4 L305.6,179.4 L306.0,179.4 L306.4,179.5 L306.8,179.5 L307.2,179.6 L307.6,179.6 L308.0,179.7 L308.4,179.7 L308.8,179.8 L309.2,179.8 L309.6,179.9 L310.0,179.9 L310.4,180.0 L310.8,180.0 L311.2,180.0 L311.6,180.0 L312.0,179.9 L312.4,179.9 L312.8,179.9 L313.2,179.8 L313.6,179.8 L314.0,179.7 L314.4,179.7 L314.8,179.6 L315.2,179.6 L315.6,179.5 L316.0,179.5 L316.4,179.5 L316.8,179.5 L317.2,179.5 L317.6,179.5 L318.0,179.5 L318.4,179.5 L318.8,179.6 L319.2,179.6 L319.6,179.6 L320.0,179.7 L320.4,179.7 L320.8,179.8 L321.2,179.8 L321.6,179.9 L322.0,179.9 L322.4,179.9 L322.8,179.9 L323.2,179.9 L323.6,179.9 L324.0,179.9 L324.4,179.9 L324.8,179.8 L325.2,179.8 L325.6,179.8 L326.0,179.7 L326.4,179.7 L326.8,179.6 L327.2,179.6 L327.6,179.6 L328.0,179.5 L328.4,179.5 L328.8,179.5 L329.2,179.5 L329.6,179.5 L330.0,179.6 L330.4,179.7 L330.8,179.7 L529.6,179.7"/>
<g fill="#ff0000"><circle cx="95.2" cy="185.5" r="1.35"/><circle cx="96.4" cy="179.8" r="1.35"/><circle cx="96.8" cy="174.0" r="1.35"/><circle cx="97.2" cy="168.2" r="1.35"/><circle cx="97.6" cy="163.8" r="1.35"/><circle cx="98.8" cy="164.8" r="1.35"/><circle cx="99.6" cy="171.5" r="1.35"/><circle cx="100.4" cy="180.0" r="1.35"/><circle cx="101.2" cy="187.9" r="1.35"/><circle cx="102.0" cy="193.0" r="1.35"/><circle cx="104.4" cy="189.9" r="1.35"/><circle cx="105.6" cy="185.6" r="1.35"/><circle cx="106.8" cy="181.6" r="1.35"/><circle cx="108.4" cy="176.5" r="1.35"/><circle cx="110.0" cy="171.4" r="1.35"/><circle cx="112.4" cy="171.1" r="1.35"/><circle cx="113.2" cy="175.9" r="1.35"/><circle cx="114.0" cy="181.5" r="1.35"/><circle cx="114.8" cy="185.8" r="1.35"/><circle cx="117.6" cy="184.1" r="1.35"/><circle cx="119.6" cy="179.8" r="1.35"/><circle cx="121.2" cy="175.7" r="1.35"/><circle cx="123.2" cy="171.6" r="1.35"/><circle cx="125.2" cy="175.3" r="1.35"/><circle cx="126.4" cy="180.5" r="1.35"/><circle cx="128.0" cy="184.4" r="1.35"/><circle cx="130.8" cy="181.2" r="1.35"/><circle cx="133.6" cy="177.4" r="1.35"/><circle cx="136.8" cy="174.6" r="1.35"/><circle cx="139.6" cy="178.5" r="1.35"/><circle cx="142.0" cy="182.5" r="1.35"/><circle cx="145.2" cy="180.3" r="1.35"/><circle cx="147.6" cy="176.6" r="1.35"/></g>
</g>
<rect x="225.8" y="253.2" width="301.8" height="91.0" fill="#fff" stroke="#484848" stroke-width="1"/>
<line x1="234.4" y1="270.0" x2="276.1" y2="270.0" stroke="#0000ff" stroke-width="2.4"/>
<line x1="234.4" y1="298.4" x2="276.1" y2="298.4" stroke="#058005" stroke-width="2.4" stroke-dasharray="4.9 1.8"/>
<circle cx="255.70000000000002" cy="298.4" r="2.6" fill="#058005"/>
<line x1="234.4" y1="326.4" x2="276.1" y2="326.4" stroke="#ff0000" stroke-width="2.4" stroke-dasharray="1.9 1.9"/>
<circle cx="255.70000000000002" cy="326.4" r="2.9" fill="#ff0000"/>
<text x="281.3" y="277.6" class="lg">Bend-moment in plane 1</text>
<text x="281.3" y="306.5" class="lg">Bend-moment in plane 2</text>
<text x="281.3" y="335.3" class="lg">Torque</text>
<text x="311" y="405.3" text-anchor="middle" class="ax">Time (s)</text>
<text transform="translate(32.5,187.9) rotate(-90)" text-anchor="middle" textLength="227.5" lengthAdjust="spacing" class="ax">Element moment (Nm)</text>
<text y="443.9" class="cap"><tspan x="278.3">(</tspan><tspan x="287.7" font-weight="bold">a</tspan><tspan x="301.3">)</tspan></text>
<clipPath id="cb"><rect x="82.8" y="483.8" width="447.6" height="337.8"/></clipPath>
<line x1="82.9" y1="500.5" x2="529.8" y2="500.5" class="grid" stroke="#999" stroke-width="1"/>
<line x1="82.9" y1="541.5" x2="529.8" y2="541.5" class="grid" stroke="#888" stroke-width="1"/>
<line x1="82.9" y1="582.5" x2="529.8" y2="582.5" class="grid" stroke="#383838" stroke-width="1"/>
<line x1="82.9" y1="622.6" x2="529.8" y2="622.6" class="grid" stroke="#4a4a4a" stroke-width="1"/>
<line x1="82.9" y1="663.5" x2="529.8" y2="663.5" class="grid" stroke="#8c8c8c" stroke-width="1"/>
<line x1="82.9" y1="703.5" x2="529.8" y2="703.5" class="grid" stroke="#a0a0a0" stroke-width="1"/>
<line x1="82.9" y1="745.0" x2="529.8" y2="745.0" class="grid" stroke="#707070" stroke-width="1"/>
<line x1="82.9" y1="786.0" x2="529.8" y2="786.0" class="grid" stroke="#444" stroke-width="1.4"/>
<line x1="194.5" y1="821.0" x2="194.5" y2="484.4" class="grid" stroke="#7c7c7c" stroke-width="1"/>
<line x1="306.5" y1="821.0" x2="306.5" y2="484.4" class="grid" stroke="#7c7c7c" stroke-width="1"/>
<line x1="417.5" y1="821.0" x2="417.5" y2="484.4" class="grid" stroke="#7c7c7c" stroke-width="1"/>
<line x1="528.8" y1="821.0" x2="528.8" y2="484.4" class="grid" stroke="#555" stroke-width="1"/>
<line x1="83.4" y1="500.5" x2="87.80000000000001" y2="500.5" class="tick"/>
<line x1="529.8" y1="500.5" x2="525.4" y2="500.5" class="tick"/>
<text x="79.4" y="508.1" text-anchor="end" class="tl">30</text>
<line x1="83.4" y1="541.5" x2="87.80000000000001" y2="541.5" class="tick"/>
<line x1="529.8" y1="541.5" x2="525.4" y2="541.5" class="tick"/>
<text x="79.4" y="549.1" text-anchor="end" class="tl">20</text>
<line x1="83.4" y1="582.5" x2="87.80000000000001" y2="582.5" class="tick"/>
<line x1="529.8" y1="582.5" x2="525.4" y2="582.5" class="tick"/>
<text x="79.4" y="590.1" text-anchor="end" class="tl">10</text>
<line x1="83.4" y1="622.6" x2="87.80000000000001" y2="622.6" class="tick"/>
<line x1="529.8" y1="622.6" x2="525.4" y2="622.6" class="tick"/>
<text x="79.4" y="630.2" text-anchor="end" class="tl">0</text>
<line x1="83.4" y1="663.5" x2="87.80000000000001" y2="663.5" class="tick"/>
<line x1="529.8" y1="663.5" x2="525.4" y2="663.5" class="tick"/>
<text x="79.4" y="671.1" text-anchor="end" class="tl">-10</text>
<line x1="83.4" y1="703.5" x2="87.80000000000001" y2="703.5" class="tick"/>
<line x1="529.8" y1="703.5" x2="525.4" y2="703.5" class="tick"/>
<text x="79.4" y="711.1" text-anchor="end" class="tl">-20</text>
<line x1="83.4" y1="745.0" x2="87.80000000000001" y2="745.0" class="tick"/>
<line x1="529.8" y1="745.0" x2="525.4" y2="745.0" class="tick"/>
<text x="79.4" y="752.6" text-anchor="end" class="tl">-30</text>
<line x1="83.4" y1="786.0" x2="87.80000000000001" y2="786.0" class="tick"/>
<line x1="529.8" y1="786.0" x2="525.4" y2="786.0" class="tick"/>
<text x="79.4" y="793.6" text-anchor="end" class="tl">-40</text>
<line x1="84.0" y1="821.0" x2="84.0" y2="816.6" class="tick"/>
<line x1="84.0" y1="484.4" x2="84.0" y2="488.79999999999995" class="tick"/>
<text x="84.0" y="844.6" text-anchor="middle" class="tl">0</text>
<line x1="194.5" y1="821.0" x2="194.5" y2="816.6" class="tick"/>
<line x1="194.5" y1="484.4" x2="194.5" y2="488.79999999999995" class="tick"/>
<text x="194.5" y="844.6" text-anchor="middle" class="tl">10</text>
<line x1="306.5" y1="821.0" x2="306.5" y2="816.6" class="tick"/>
<line x1="306.5" y1="484.4" x2="306.5" y2="488.79999999999995" class="tick"/>
<text x="306.5" y="844.6" text-anchor="middle" class="tl">20</text>
<line x1="417.5" y1="821.0" x2="417.5" y2="816.6" class="tick"/>
<line x1="417.5" y1="484.4" x2="417.5" y2="488.79999999999995" class="tick"/>
<text x="417.5" y="844.6" text-anchor="middle" class="tl">30</text>
<line x1="529.3" y1="821.0" x2="529.3" y2="816.6" class="tick"/>
<line x1="529.3" y1="484.4" x2="529.3" y2="488.79999999999995" class="tick"/>
<text x="529.3" y="844.6" text-anchor="middle" class="tl">40</text>
<line x1="83.4" y1="484.4" x2="83.4" y2="821.0" stroke="#888" stroke-width="1"/>
<line x1="529.8" y1="484.4" x2="529.8" y2="821.0" stroke="#888" stroke-width="1"/>
<line x1="82.9" y1="484.4" x2="530.3" y2="484.4" stroke="#666" stroke-width="1"/>
<line x1="82.9" y1="821.0" x2="530.3" y2="821.0" stroke="#666" stroke-width="1"/>
<g clip-path="url(#cb)">
<path class="b" d="M83.4,622.6 L83.8,623.5 L84.2,624.1 L84.6,624.6 L85.0,624.7 L85.4,624.6 L85.8,624.2 L86.2,623.6 L86.6,622.8 L87.0,621.9 L87.4,621.0 L87.8,620.0 L88.2,619.2 L88.6,618.4 L89.0,617.8 L89.4,617.3 L89.8,617.1 L90.2,617.1 L90.6,617.3 L91.0,617.7 L91.4,618.3 L91.8,619.1 L92.2,620.1 L92.6,621.2 L93.0,622.3 L93.4,623.5 L93.8,624.6 L94.2,625.6 L94.6,626.6 L95.0,627.4 L95.4,628.0 L95.8,628.4 L96.2,628.6 L96.6,628.5 L97.0,628.2 L97.4,627.7 L97.8,627.0 L98.2,626.2 L98.6,625.2 L99.0,624.1 L99.4,622.9 L99.8,621.7 L100.2,620.6 L100.6,619.5 L101.0,618.6 L101.4,617.8 L101.8,617.2 L102.2,616.8 L102.6,616.6 L103.0,616.7 L103.4,617.0 L103.8,617.5 L104.2,618.2 L104.6,619.0 L105.0,620.0 L105.4,621.1 L105.8,622.3 L106.2,623.5 L106.6,624.6 L107.0,625.7 L107.4,626.6 L107.8,627.4 L108.2,628.0 L108.6,628.4 L109.0,628.6 L109.4,628.5 L109.8,628.2 L110.2,627.7 L110.6,627.0 L111.0,626.2 L111.4,625.2 L111.8,624.1 L112.2,622.9 L112.6,621.7 L113.0,620.6 L113.4,619.5 L113.8,618.6 L114.2,617.8 L114.6,617.2 L115.0,616.8 L115.4,616.6 L115.8,616.7 L116.2,617.0 L116.6,617.5 L117.0,618.2 L117.4,619.0 L117.8,620.0 L118.2,621.1 L118.6,622.3 L119.0,623.5 L119.4,624.6 L119.8,625.7 L120.2,626.6 L120.6,627.4 L121.0,628.0 L121.4,628.4 L121.8,628.6 L122.2,628.5 L122.6,628.2 L123.0,627.7 L123.4,627.0 L123.8,626.2 L124.2,625.2 L124.6,624.1 L125.0,622.9 L125.4,621.7 L125.8,620.6 L126.2,619.5 L126.6,618.6 L127.0,617.8 L127.4,617.2 L127.8,616.8 L128.2,616.6 L128.6,616.7 L129.0,617.0 L129.4,617.5 L129.8,618.2 L130.2,619.0 L130.6,620.0 L131.0,621.1 L131.4,622.3 L131.8,623.5 L132.2,624.6 L132.6,625.7 L133.0,626.6 L133.4,627.4 L133.8,628.0 L134.2,628.3 L134.6,628.5 L135.0,628.3 L135.4,628.0 L135.8,627.5 L136.2,626.8 L136.6,626.0 L137.0,625.0 L137.4,623.9 L137.8,622.9 L138.2,621.8 L138.6,620.8 L139.0,619.8 L139.4,619.0 L139.8,618.4 L140.2,617.9 L140.6,617.6 L141.0,617.5 L141.4,617.5 L141.8,617.8 L142.2,618.3 L142.6,618.9 L143.0,619.7 L143.4,620.5 L143.8,621.4 L144.2,622.4 L144.6,623.3 L145.0,624.2 L145.4,625.0 L145.8,625.7 L146.2,626.3 L146.6,626.8 L147.0,627.0 L147.4,627.1 L147.8,627.0 L148.2,626.8 L148.6,626.4 L149.0,625.9 L149.4,625.2 L149.8,624.4 L150.2,623.6 L150.6,622.8 L151.0,622.0 L151.4,621.2 L151.8,620.5 L152.2,619.8 L152.6,619.3 L153.0,618.9 L153.4,618.7 L153.8,618.6 L154.2,618.7 L154.6,618.9 L155.0,619.3 L155.4,619.7 L155.8,620.3 L156.2,621.0 L156.6,621.7 L157.0,622.4 L157.4,623.1 L157.8,623.8 L158.2,624.5 L158.6,625.0 L159.0,625.5 L159.4,625.8 L159.8,626.0 L160.2,626.1 L160.6,626.0 L161.0,625.9 L161.4,625.5 L161.8,625.1 L162.2,624.6 L162.6,624.0 L163.0,623.4 L163.4,622.8 L163.8,622.1 L164.2,621.5 L164.6,620.9 L165.0,620.5 L165.4,620.1 L165.8,619.8 L166.2,619.6 L166.6,619.5 L167.0,619.6 L167.4,619.7 L167.8,620.0 L168.2,620.4 L168.6,620.8 L169.0,621.3 L169.4,621.9 L169.8,622.5 L170.2,623.0 L170.6,623.6 L171.0,624.1 L171.4,624.5 L171.8,624.8 L172.2,625.1 L172.6,625.3 L173.0,625.3 L173.4,625.3 L173.8,625.1 L174.2,624.9 L174.6,624.6 L175.0,624.2 L175.4,623.7 L175.8,623.2 L176.2,622.7 L176.6,622.2 L177.0,621.8 L177.4,621.3 L177.8,620.9 L178.2,620.6 L178.6,620.4 L179.0,620.3 L179.4,620.2 L179.8,620.3 L180.2,620.4 L180.6,620.6 L181.0,620.9 L181.4,621.2 L181.8,621.6 L182.2,622.1 L182.6,622.5 L183.0,622.9 L183.4,623.3 L183.8,623.7 L184.2,624.1 L184.6,624.3 L185.0,624.5 L185.4,624.7 L185.8,624.7 L186.2,624.7 L186.6,624.5 L187.0,624.4 L187.4,624.1 L187.8,623.8 L188.2,623.5 L188.6,623.1 L189.0,622.7 L189.4,622.3 L189.8,621.9 L190.2,621.6 L190.6,621.3 L191.0,621.1 L191.4,620.9 L191.8,620.8 L192.2,620.8 L192.6,620.8 L193.0,620.9 L193.4,621.0 L193.8,621.3 L194.2,621.5 L194.6,621.8 L195.0,622.2 L195.4,622.5 L195.8,622.9 L196.2,623.2 L196.6,623.5 L197.0,623.7 L197.4,623.9 L197.8,624.1 L198.2,624.2 L198.6,624.2 L199.0,624.2 L199.4,624.1 L199.8,624.0 L200.2,623.8 L200.6,623.5 L201.0,623.3 L201.4,623.0 L201.8,622.7 L202.2,622.4 L202.6,622.1 L203.0,621.8 L203.4,621.6 L203.8,621.4 L204.2,621.3 L204.6,621.2 L205.0,621.2 L205.4,621.2 L205.8,621.3 L206.2,621.4 L206.6,621.6 L207.0,621.8 L207.4,622.0 L207.8,622.3 L208.2,622.5 L208.6,622.8 L209.0,623.0 L209.4,623.3 L209.8,623.5 L210.2,623.6 L210.6,623.8 L211.0,623.8 L211.4,623.9 L211.8,623.8 L212.2,623.8 L212.6,623.7 L213.0,623.5 L213.4,623.3 L213.8,623.1 L214.2,622.9 L214.6,622.7 L215.0,622.4 L215.4,622.2 L215.8,622.0 L216.2,621.8 L216.6,621.7 L217.0,621.6 L217.4,621.5 L217.8,621.5 L218.2,621.5 L218.6,621.6 L219.0,621.7 L219.4,621.8 L219.8,622.0 L220.2,622.1 L220.6,622.3 L221.0,622.5 L221.4,622.8 L221.8,622.9 L222.2,623.1 L222.6,623.3 L223.0,623.4 L223.4,623.5 L223.8,623.6 L224.2,623.6 L224.6,623.6 L225.0,623.5 L225.4,623.4 L225.8,623.3 L226.2,623.2 L226.6,623.0 L227.0,622.8 L227.4,622.6 L227.8,622.5 L228.2,622.3 L228.6,622.1 L229.0,622.0 L229.4,621.9 L229.8,621.8 L230.2,621.8 L230.6,621.7 L231.0,621.8 L231.4,621.8 L231.8,621.9 L232.2,622.0 L232.6,622.1 L233.0,622.3 L233.4,622.4 L233.8,622.6 L234.2,622.7 L234.6,622.9 L235.0,623.0 L235.4,623.1 L235.8,623.2 L236.2,623.3 L236.6,623.3 L237.0,623.4 L237.4,623.3 L237.8,623.3 L238.2,623.2 L238.6,623.1 L239.0,623.0 L239.4,622.9 L239.8,622.8 L240.2,622.6 L240.6,622.5 L241.0,622.4 L241.4,622.2 L241.8,622.1 L242.2,622.1 L242.6,622.0 L243.0,621.9 L243.4,621.9 L243.8,621.9 L244.2,622.0 L244.6,622.0 L245.0,622.1 L245.4,622.2 L245.8,622.3 L246.2,622.4 L246.6,622.6 L247.0,622.7 L247.4,622.8 L247.8,622.9 L248.2,623.0 L248.6,623.1 L249.0,623.2 L249.4,623.2 L249.8,623.2 L250.2,623.2 L250.6,623.2 L251.0,623.1 L251.4,623.1 L251.8,623.0 L252.2,622.9 L252.6,622.8 L253.0,622.6 L253.4,622.5 L253.8,622.4 L254.2,622.3 L254.6,622.2 L255.0,622.1 L255.4,622.1 L255.8,622.0 L256.2,622.0 L256.6,622.0 L257.0,622.0 L257.4,622.1 L257.8,622.2 L258.2,622.2 L258.6,622.3 L259.0,622.5 L259.4,622.6 L259.8,622.7 L260.2,622.8 L260.6,622.9 L261.0,623.0 L261.4,623.1 L261.8,623.1 L262.2,623.2 L262.6,623.2 L263.0,623.2 L263.4,623.1 L263.8,623.1 L264.2,623.0 L264.6,622.9 L265.0,622.8 L265.4,622.7 L265.8,622.6 L266.2,622.5 L266.6,622.4 L267.0,622.3 L267.4,622.2 L267.8,622.2 L268.2,622.1 L268.6,622.1 L269.0,622.1 L269.4,622.1 L269.8,622.1 L270.2,622.1 L270.6,622.2 L271.0,622.3 L271.4,622.4 L271.8,622.5 L272.2,622.6 L272.6,622.7 L273.0,622.8 L273.4,622.9 L273.8,622.9 L274.2,623.0 L274.6,623.1 L275.0,623.1 L275.4,623.1 L275.8,623.1 L276.2,623.1 L276.6,623.0 L277.0,623.0 L277.4,622.9 L277.8,622.8 L278.2,622.7 L278.6,622.6 L279.0,622.5 L279.4,622.4 L279.8,622.3 L280.2,622.3 L280.6,622.2 L281.0,622.2 L281.4,622.1 L281.8,622.1 L282.2,622.1 L282.6,622.1 L283.0,622.2 L283.4,622.2 L283.8,622.3 L284.2,622.4 L284.6,622.5 L285.0,622.6 L285.4,622.7 L285.8,622.8 L286.2,622.8 L286.6,622.9 L287.0,623.0 L287.4,623.0 L287.8,623.0 L288.2,623.1 L288.6,623.1 L289.0,623.0 L289.4,623.0 L289.8,622.9 L290.2,622.9 L290.6,622.8 L291.0,622.7 L291.4,622.6 L291.8,622.5 L292.2,622.5 L292.6,622.4 L293.0,622.3 L293.4,622.2 L293.8,622.2 L294.2,622.2 L294.6,622.2 L295.0,622.2 L295.4,622.2 L295.8,622.2 L296.2,622.3 L296.6,622.3 L297.0,622.4 L297.4,622.5 L297.8,622.6 L298.2,622.7 L298.6,622.7 L299.0,622.8 L299.4,622.9 L299.8,622.9 L300.2,623.0 L300.6,623.0 L301.0,623.0 L301.4,623.0 L301.8,623.0 L302.2,623.0 L302.6,622.9 L303.0,622.8 L303.4,622.8 L303.8,622.7 L304.2,622.6 L304.6,622.5 L305.0,622.5 L305.4,622.4 L305.8,622.3 L306.2,622.3 L306.6,622.2 L307.0,622.2 L307.4,622.2 L307.8,622.2 L308.2,622.2 L308.6,622.3 L309.0,622.3 L309.4,622.4 L309.8,622.4 L310.2,622.5 L310.6,622.6 L311.0,622.7 L311.4,622.7 L311.8,622.8 L312.2,622.9 L312.6,622.9 L313.0,622.9 L313.4,623.0 L313.8,623.0 L314.2,623.0 L314.6,622.9 L315.0,622.9 L315.4,622.9 L315.8,622.8 L316.2,622.8 L316.6,622.7 L317.0,622.6 L317.4,622.5 L317.8,622.5 L318.2,622.4 L318.6,622.4 L319.0,622.3 L319.4,622.3 L319.8,622.3 L320.2,622.2 L320.6,622.3 L321.0,622.3 L321.4,622.3 L321.8,622.3 L322.2,622.4 L322.6,622.5 L323.0,622.5 L323.4,622.6 L323.8,622.7 L324.2,622.7 L324.6,622.8 L325.0,622.8 L325.4,622.9 L325.8,622.9 L326.2,622.9 L326.6,622.9 L327.0,622.9 L327.4,622.9 L327.8,622.9 L328.2,622.8 L328.6,622.8 L329.0,622.7 L329.4,622.7 L329.8,622.6 L529.8,622.6"/>
<path class="g" d="M83.6,636.0 L84.0,624.9 L84.4,615.5 L84.8,607.7 L85.2,601.4 L85.6,596.8 L86.0,593.7 L86.4,592.2 L86.8,592.2 L87.2,594.7 L87.6,600.7 L88.0,610.9 L88.4,624.9 L88.8,642.3 L89.2,662.0 L89.6,682.7 L90.0,703.0 L90.4,721.7 L90.8,737.6 L91.2,749.7 L91.6,757.8 L92.0,761.9 L92.4,763.0 L92.8,762.2 L93.2,758.9 L93.6,752.5 L94.0,742.6 L94.4,729.1 L94.8,712.4 L95.2,692.9 L95.6,671.2 L96.0,648.2 L96.4,624.8 L96.8,601.8 L97.2,580.1 L97.6,560.6 L98.0,543.9 L98.4,530.4 L98.8,520.5 L99.2,514.1 L99.6,510.8 L100.0,510.0 L100.4,511.4 L100.8,516.9 L101.2,527.7 L101.6,544.3 L102.0,566.3 L102.4,593.1 L102.8,623.4 L103.2,655.8 L103.6,688.6 L104.0,720.1 L104.4,748.8 L104.8,773.3 L105.2,792.7 L105.6,806.4 L106.0,814.4 L106.4,817.7 L106.8,817.9 L107.2,816.5 L107.6,813.2 L108.0,807.5 L108.4,799.3 L108.8,788.7 L109.2,776.1 L109.6,761.8 L110.0,746.4 L110.4,730.5 L110.8,714.8 L111.2,699.9 L111.6,686.4 L112.0,674.7 L112.4,665.3 L112.8,658.4 L113.2,653.9 L113.6,651.6 L114.0,651.0 L114.4,651.4 L114.8,652.9 L115.2,656.0 L115.6,660.7 L116.0,667.1 L116.4,674.9 L116.8,684.1 L117.2,694.2 L117.6,704.8 L118.0,715.5 L118.4,726.0 L118.8,735.6 L119.2,744.2 L119.6,751.3 L120.0,756.9 L120.4,760.7 L120.8,763.0 L121.2,763.9 L121.6,763.9 L122.0,762.7 L122.4,759.8 L122.8,754.8 L123.2,747.9 L123.6,739.3 L124.0,729.5 L124.4,719.0 L124.8,708.5 L125.2,698.7 L125.6,690.1 L126.0,683.2 L126.4,678.2 L126.8,675.3 L127.2,674.1 L127.6,674.1 L128.0,675.7 L128.4,679.5 L128.8,686.1 L129.2,695.3 L129.6,707.0 L130.0,720.7 L130.4,735.8 L130.8,751.4 L131.2,766.9 L131.6,781.3 L132.0,794.1 L132.4,804.6 L132.8,812.5 L133.2,817.7 L133.6,820.3 L134.0,821.0 L134.4,820.3 L134.8,817.8 L135.2,812.8 L135.6,805.0 L136.0,794.6 L136.4,781.9 L136.8,767.2 L137.2,751.3 L137.6,734.9 L138.0,718.6 L138.4,703.2 L138.8,689.5 L139.2,677.9 L139.6,668.8 L140.0,662.4 L140.4,658.7 L140.8,657.1 L141.2,657.1 L141.6,658.5 L142.0,662.1 L142.4,668.0 L142.8,676.4 L143.2,687.1 L143.6,699.6 L144.0,713.3 L144.4,727.6 L144.8,741.7 L145.2,754.8 L145.6,766.5 L146.0,776.1 L146.4,783.3 L146.8,788.0 L147.2,790.4 L147.6,791.0 L148.0,790.7 L148.4,789.6 L148.8,787.3 L149.2,783.9 L149.6,779.1 L150.0,773.2 L150.4,766.1 L150.8,758.0 L151.2,749.3 L151.6,740.2 L152.0,730.8 L152.4,721.7 L152.8,713.0 L153.2,704.9 L153.6,697.8 L154.0,691.9 L154.4,687.1 L154.8,683.7 L155.2,681.4 L155.6,680.3 L156.0,680.0 L156.4,680.4 L156.8,681.8 L157.2,684.6 L157.6,688.8 L158.0,694.4 L158.4,701.0 L158.8,708.2 L159.2,715.8 L159.6,723.0 L160.0,729.6 L160.4,735.2 L160.8,739.4 L161.2,742.2 L161.6,743.6 L162.0,744.0 L162.4,743.6 L162.8,742.3 L163.2,739.5 L163.6,735.3 L164.0,729.7 L164.4,722.8 L164.8,714.8 L165.2,706.2 L165.6,697.3 L166.0,688.4 L166.4,680.1 L166.8,672.6 L167.2,666.3 L167.6,661.4 L168.0,657.9 L168.4,655.9 L168.8,655.1 L169.2,655.1 L169.6,656.4 L170.0,659.7 L170.4,665.1 L170.8,672.5 L171.2,681.5 L171.6,691.5 L172.0,701.6 L172.4,711.1 L172.8,719.4 L173.2,725.9 L173.6,730.2 L174.0,732.4 L174.4,733.0 L174.8,732.6 L175.2,731.1 L175.6,728.1 L176.0,723.4 L176.4,717.0 L176.8,709.1 L177.2,699.6 L177.6,689.0 L178.0,677.6 L178.4,665.7 L178.8,653.8 L179.2,642.3 L179.6,631.4 L180.0,621.7 L180.4,613.3 L180.8,606.5 L181.2,601.4 L181.6,598.0 L182.0,596.2 L182.4,595.5 L182.8,595.6 L183.2,596.4 L183.6,598.0 L184.0,600.6 L184.4,604.3 L184.8,608.9 L185.2,614.5 L185.6,620.7 L186.0,627.5 L186.4,634.5 L186.8,641.4 L187.2,648.2 L187.6,654.4 L188.0,660.0 L188.4,664.6 L188.8,668.3 L189.2,670.9 L189.6,672.5 L190.0,673.3 L190.4,673.3 L190.8,671.5 L191.2,667.7 L191.6,662.1 L192.0,655.2 L192.4,647.3 L192.8,638.8 L193.2,630.0 L193.6,621.4 L194.0,613.4 L194.4,606.2 L194.8,600.2 L195.2,595.9 L195.6,593.3 L196.0,591.1 L196.4,588.9 L196.8,587.0 L197.2,585.4 L197.6,584.1 L198.0,583.3 L198.4,583.0 L198.8,583.4 L199.2,584.5 L199.6,586.0 L200.0,587.8 L200.4,589.6 L200.8,591.2 L201.2,592.4 L201.6,593.0 L202.0,592.7 L202.4,591.5 L202.8,589.5 L203.2,586.7 L203.6,583.4 L204.0,579.5 L204.4,575.3 L204.8,570.8 L205.2,566.2 L205.6,561.5 L206.0,556.9 L206.4,552.6 L206.8,548.5 L207.2,544.9 L207.6,541.8 L208.0,539.4 L208.4,537.8 L208.8,537.0 L209.2,537.4 L209.6,538.9 L210.0,541.4 L210.4,544.8 L210.8,548.9 L211.2,553.6 L211.6,558.8 L212.0,564.2 L212.4,569.7 L212.8,575.2 L213.2,580.4 L213.6,585.4 L214.0,589.8 L214.4,593.6 L214.8,596.6 L215.2,598.6 L215.6,599.6 L216.0,599.2 L216.4,597.7 L216.8,595.2 L217.2,591.6 L217.6,587.2 L218.0,582.0 L218.4,576.2 L218.8,569.9 L219.2,563.1 L219.6,556.0 L220.0,548.8 L220.4,541.4 L220.8,534.0 L221.2,526.8 L221.6,519.8 L222.0,513.1 L222.4,506.9 L222.8,501.2 L223.2,496.2 L223.6,492.0 L224.0,488.7 L224.4,486.4 L224.8,485.2 L225.2,485.2 L225.6,486.4 L226.0,488.8 L226.4,492.2 L226.8,496.3 L227.2,501.0 L227.6,506.1 L228.0,511.5 L228.4,517.1 L228.8,522.5 L229.2,527.8 L229.6,532.6 L230.0,536.9 L230.4,540.4 L230.8,543.1 L231.2,544.6 L231.6,545.0 L232.0,544.5 L232.4,543.4 L232.8,541.7 L233.2,539.7 L233.6,537.2 L234.0,534.5 L234.4,531.5 L234.8,528.5 L235.2,525.3 L235.6,522.2 L236.0,519.3 L236.4,516.5 L236.8,513.9 L237.2,511.7 L237.6,510.0 L238.0,508.7 L238.4,508.1 L238.8,508.1 L239.2,508.5 L239.6,509.3 L240.0,510.3 L240.4,511.5 L240.8,512.7 L241.2,513.8 L241.6,514.7 L242.0,515.4 L242.4,515.6 L242.8,515.3 L243.2,514.4 L243.6,513.1 L244.0,511.4 L244.4,509.3 L244.8,507.0 L245.2,504.4 L245.6,501.8 L246.0,499.1 L246.4,496.4 L246.8,493.9 L247.2,491.5 L247.6,489.3 L248.0,487.5 L248.4,486.0 L248.8,485.1 L249.2,484.6 L249.6,484.8 L250.0,485.9 L250.4,487.6 L250.8,490.1 L251.2,493.0 L251.6,496.4 L252.0,500.2 L252.4,504.3 L252.8,508.6 L253.2,513.0 L253.6,517.3 L254.0,521.6 L254.4,525.8 L254.8,529.6 L255.2,533.2 L255.6,536.2 L256.0,538.8 L256.4,540.7 L256.8,542.0 L257.2,542.4 L257.6,542.1 L258.0,541.3 L258.4,540.0 L258.8,538.2 L259.2,536.1 L259.6,533.7 L260.0,531.1 L260.4,528.2 L260.8,525.2 L261.2,522.2 L261.6,519.1 L262.0,516.1 L262.4,513.2 L262.8,510.4 L263.2,507.8 L263.6,505.6 L264.0,503.7 L264.4,502.1 L264.8,501.0 L265.2,500.5 L265.6,500.5 L266.0,501.3 L266.4,502.8 L266.8,504.9 L267.2,507.6 L267.6,510.8 L268.0,514.3 L268.4,518.1 L268.8,522.2 L269.2,526.4 L269.6,530.6 L270.0,534.8 L270.4,538.9 L270.8,542.8 L271.2,546.4 L271.6,549.6 L272.0,552.4 L272.4,554.7 L272.8,556.4 L273.2,557.4 L273.6,557.6 L274.0,557.3 L274.4,556.6 L274.8,555.7 L275.2,554.5 L275.6,553.3 L276.0,552.0 L276.4,550.8 L276.8,549.7 L277.2,548.8 L277.6,548.2 L278.0,548.0 L278.4,548.2 L278.8,548.8 L279.2,549.8 L279.6,551.1 L280.0,552.7 L280.4,554.5 L280.8,556.5 L281.2,558.6 L281.6,560.8 L282.0,563.1 L282.4,565.4 L282.8,567.6 L283.2,569.7 L283.6,571.7 L284.0,573.5 L284.4,575.0 L284.8,576.3 L285.2,577.3 L285.6,577.9 L286.0,578.2 L286.4,578.4 L286.8,578.6 L287.2,578.8 L287.6,578.9 L288.0,579.0 L288.4,579.1 L288.8,579.3 L289.2,579.5 L289.6,579.7 L290.0,580.0 L290.4,580.7 L290.8,582.0 L291.2,584.0 L291.6,586.4 L292.0,589.2 L292.4,592.4 L292.8,595.7 L293.2,599.3 L293.6,602.9 L294.0,606.4 L294.4,609.9 L294.8,613.2 L295.2,616.2 L295.6,618.8 L296.0,621.0 L296.4,623.0 L296.8,625.1 L297.2,627.2 L297.6,629.3 L298.0,631.1 L298.4,632.8 L298.8,634.1 L299.2,635.0 L299.6,635.4 L300.0,635.3 L300.4,634.8 L300.8,634.1 L301.2,633.1 L301.6,631.9 L302.0,630.6 L302.4,629.2 L302.8,627.7 L303.2,626.3 L303.6,625.0 L304.0,623.8 L304.4,622.8 L304.8,622.1 L305.2,621.6 L305.6,621.5 L306.0,622.1 L306.4,623.4 L306.8,625.3 L307.2,627.8 L307.6,630.7 L308.0,633.9 L308.4,637.4 L308.8,641.1 L309.2,644.8 L309.6,648.5 L310.0,652.1 L310.4,655.5 L310.8,658.6 L311.2,661.4 L311.6,663.6 L312.0,665.5 L312.4,667.4 L312.8,669.2 L313.2,670.8 L313.6,672.4 L314.0,674.0 L314.4,675.4 L314.8,676.8 L315.2,678.1 L315.6,679.3 L316.0,680.5 L316.4,681.7 L316.8,683.0 L317.2,684.2 L317.6,685.5 L318.0,686.7 L318.4,687.9 L318.8,689.1 L319.2,690.2 L319.6,691.4 L320.0,692.4 L320.4,693.5 L320.8,694.4 L321.2,695.3 L321.6,696.1 L322.0,696.8 L322.4,697.5 L322.8,698.0 L323.2,698.4 L323.6,698.7 L324.0,698.9 L324.4,699.0 L324.8,698.9 L325.2,698.8 L325.6,698.5 L326.0,698.1 L326.4,697.7 L326.8,697.3 L327.2,696.8 L327.6,696.3 L328.0,695.8 L328.4,695.3 L328.8,694.9 L329.2,694.5 L329.6,694.1 L330.0,693.9 L330.4,693.7 L330.8,693.7 L331.2,694.2 L331.6,695.1 L332.0,696.6 L332.4,698.3 L332.8,700.4 L333.2,702.7 L333.6,705.1 L334.0,707.5 L334.4,710.0 L334.8,712.3 L335.2,714.4 L335.6,716.2 L336.0,717.7 L336.4,719.2 L336.8,720.7 L337.2,722.3 L337.6,723.8 L338.0,725.2 L338.4,726.7 L338.8,728.2 L339.2,729.6 L339.6,731.0 L340.0,732.4 L340.4,733.7 L340.8,735.0 L341.2,736.3 L341.6,737.5 L342.0,738.6 L342.4,739.7 L342.8,740.7 L343.2,741.7 L343.6,742.6 L344.0,743.4 L344.4,744.1 L344.8,744.7 L345.2,745.3 L345.6,745.8 L346.0,746.3 L346.4,746.8 L346.8,747.4 L347.2,747.8 L347.6,748.3 L348.0,748.8 L348.4,749.2 L348.8,749.6 L349.2,750.0 L349.6,750.4 L350.0,750.7 L350.4,751.0 L350.8,751.3 L351.2,751.5 L351.6,751.7 L352.0,751.8 L352.4,751.9 L352.8,752.0 L353.2,752.0 L353.6,751.9 L354.0,751.8 L354.4,751.5 L354.8,751.3 L355.2,750.9 L355.6,750.5 L356.0,750.1 L356.4,749.6 L356.8,749.0 L357.2,748.4 L357.6,747.8 L358.0,747.2 L358.4,746.5 L358.8,745.8 L359.2,745.1 L359.6,744.4 L360.0,743.6 L360.4,742.9 L360.8,742.2 L361.2,741.4 L361.6,740.7 L362.0,740.0 L362.4,739.3 L362.8,738.5 L363.2,737.6 L363.6,736.7 L364.0,735.8 L364.4,734.8 L364.8,733.8 L365.2,732.8 L365.6,731.7 L366.0,730.6 L366.4,729.5 L366.8,728.4 L367.2,727.3 L367.6,726.2 L368.0,725.0 L368.4,723.9 L368.8,722.8 L369.2,721.7 L369.6,720.6 L370.0,719.5 L370.4,718.5 L370.8,717.5 L371.2,716.5 L371.6,715.4 L372.0,714.2 L372.4,713.0 L372.8,711.7 L373.2,710.6 L373.6,709.5 L374.0,708.5 L374.4,707.8 L374.8,707.2 L375.2,707.0 L375.6,707.1 L376.0,707.4 L376.4,708.0 L376.8,708.7 L377.2,709.6 L377.6,710.6 L378.0,711.6 L378.4,712.7 L378.8,713.7 L379.2,714.6 L379.6,715.5 L380.0,716.2 L380.4,716.7 L380.8,717.0 L381.2,716.9 L381.6,716.4 L382.0,715.4 L382.4,713.9 L382.8,712.1 L383.2,710.0 L383.6,707.6 L384.0,705.0 L384.4,702.3 L384.8,699.5 L385.2,696.7 L385.6,693.9 L386.0,691.3 L386.4,688.8 L386.8,686.4 L387.2,684.4 L387.6,682.7 L388.0,681.4 L388.4,680.4 L388.8,679.4 L389.2,678.6 L389.6,677.8 L390.0,677.0 L390.4,676.3 L390.8,675.6 L391.2,674.9 L391.6,674.2 L392.0,673.4 L392.4,672.7 L392.8,672.0 L393.2,671.3 L393.6,670.7 L394.0,670.0 L394.4,669.4 L394.8,668.7 L395.2,668.0 L395.6,667.4 L396.0,666.6 L396.4,665.9 L396.8,665.1 L397.2,664.3 L397.6,663.4 L398.0,662.4 L398.4,661.3 L398.8,660.1 L399.2,658.7 L399.6,657.2 L400.0,655.6 L400.4,654.0 L400.8,652.4 L401.2,650.8 L401.6,649.1 L402.0,647.6 L402.4,646.1 L402.8,644.7 L403.2,643.4 L403.6,642.1 L404.0,640.9 L404.4,639.7 L404.8,638.6 L405.2,637.4 L405.6,636.3 L406.0,635.1 L406.4,634.0 L406.8,632.8 L407.2,631.6 L407.6,630.4 L408.0,629.1 L408.4,627.7 L408.8,626.3 L409.2,624.9 L409.6,623.3 L410.0,621.6 L410.4,619.5 L410.8,617.1 L411.2,614.4 L411.6,611.7 L412.0,608.9 L412.4,606.3 L412.8,603.9 L413.2,602.0 L413.6,600.5 L414.0,599.6 L414.4,599.1 L414.8,598.7 L415.2,598.4 L415.6,598.1 L416.0,597.8 L416.4,597.6 L416.8,597.4 L417.2,597.2 L417.6,597.0 L418.0,596.8 L418.4,596.5 L418.8,596.2 L419.2,595.8 L419.6,595.4 L420.0,594.9 L420.4,594.3 L420.8,593.7 L421.2,593.1 L421.6,592.4 L422.0,591.6 L422.4,590.8 L422.8,589.9 L423.2,588.9 L423.6,587.7 L424.0,586.3 L424.4,584.8 L424.8,583.2 L425.2,581.4 L425.6,579.6 L426.0,577.7 L426.4,575.8 L426.8,574.0 L427.2,572.0 L427.6,569.8 L428.0,567.5 L428.4,565.0 L428.8,562.4 L429.2,559.9 L429.6,557.4 L430.0,555.0 L430.4,552.9 L430.8,550.9 L431.2,549.3 L431.6,548.1 L432.0,547.2 L432.4,546.6 L432.8,546.0 L433.2,545.4 L433.6,545.0 L434.0,544.5 L434.4,544.1 L434.8,543.8 L435.2,543.4 L435.6,543.1 L436.0,542.8 L436.4,542.5 L436.8,542.2 L437.2,541.9 L437.6,541.6 L438.0,541.3 L438.4,540.9 L438.8,540.5 L439.2,540.1 L439.6,539.7 L440.0,539.2 L440.4,538.8 L440.8,538.3 L441.2,537.9 L441.6,537.4 L442.0,536.9 L442.4,536.4 L442.8,536.0 L443.2,535.5 L443.6,534.9 L444.0,534.4 L444.4,533.9 L444.8,533.3 L445.2,532.8 L445.6,532.2 L446.0,531.6 L446.4,530.9 L446.8,530.3 L447.2,529.6 L447.6,528.8 L448.0,528.0 L448.4,527.0 L448.8,525.9 L449.2,524.7 L449.6,523.4 L450.0,522.1 L450.4,520.8 L450.8,519.4 L451.2,518.0 L451.6,516.6 L452.0,515.2 L452.4,513.9 L452.8,512.6 L453.2,511.3 L453.6,510.2 L454.0,509.1 L454.4,508.1 L454.8,507.2 L455.2,506.4 L455.6,505.8 L456.0,505.4 L456.4,505.1 L456.8,505.0 L457.2,505.1 L457.6,505.3 L458.0,505.7 L458.4,506.2 L458.8,506.8 L459.2,507.5 L459.6,508.3 L460.0,509.2 L460.4,510.1 L460.8,511.0 L461.2,512.0 L461.6,513.0 L462.0,513.9 L462.4,514.9 L462.8,515.7 L463.2,516.6 L463.6,517.3 L464.0,518.0 L464.4,518.6 L464.8,519.0 L465.2,519.3 L465.6,519.5 L466.0,519.5 L466.4,519.4 L466.8,519.3 L467.2,519.0 L467.6,518.8 L468.0,518.4 L468.4,518.1 L468.8,517.6 L469.2,517.2 L469.6,516.7 L470.0,516.3 L470.4,515.8 L470.8,515.3 L471.2,514.8 L471.6,514.3 L472.0,513.9 L472.4,513.4 L472.8,513.0 L473.2,512.7 L473.6,512.4 L474.0,512.1 L474.4,512.0 L474.8,511.8 L475.2,511.8 L475.6,511.9 L476.0,512.0 L476.4,512.3 L476.8,512.6 L477.2,513.0 L477.6,513.5 L478.0,514.1 L478.4,514.7 L478.8,515.4 L479.2,516.1 L479.6,516.8 L480.0,517.6 L480.4,518.4 L480.8,519.2 L481.2,520.1 L481.6,520.9 L482.0,522.0 L482.4,523.3 L482.8,524.8 L483.2,526.5 L483.6,528.4 L484.0,530.4 L484.4,532.4 L484.8,534.4 L485.2,536.4 L485.6,538.3 L486.0,540.2 L486.4,541.9 L486.8,543.4 L487.2,544.6 L487.6,545.6 L488.0,546.4 L488.4,546.9 L488.8,547.4 L489.2,547.9 L489.6,548.3 L490.0,548.7 L490.4,549.1 L490.8,549.4 L491.2,549.7 L491.6,550.0 L492.0,550.3 L492.4,550.6 L492.8,550.9 L493.2,551.2 L493.6,551.5 L494.0,551.8 L494.4,552.1 L494.8,552.5 L495.2,553.0 L495.6,553.4 L496.0,553.9 L496.4,554.4 L496.8,554.9 L497.2,555.4 L497.6,556.0 L498.0,556.5 L498.4,557.2 L498.8,557.8 L499.2,558.5 L499.6,559.3 L500.0,560.1 L500.4,560.9 L500.8,561.9 L501.2,563.1 L501.6,564.6 L502.0,566.3 L502.4,568.2 L502.8,570.3 L503.2,572.4 L503.6,574.7 L504.0,577.0 L504.4,579.3 L504.8,581.6 L505.2,583.8 L505.6,585.9 L506.0,587.9 L506.4,589.7 L506.8,591.3 L507.2,592.7 L507.6,594.0 L508.0,595.3 L508.4,596.5 L508.8,597.6 L509.2,598.7 L509.6,599.8 L510.0,600.9 L510.4,601.9 L510.8,602.9 L511.2,603.8 L511.6,604.8 L512.0,605.7 L512.4,606.6 L512.8,607.5 L513.2,608.4 L513.6,609.3 L514.0,610.1 L514.4,611.0 L514.8,611.9 L515.2,612.8 L515.6,613.7 L516.0,614.6 L516.4,615.6 L516.8,616.6 L517.2,617.6 L517.6,618.6 L518.0,619.7 L518.4,620.8 L518.8,621.9 L519.2,623.1 L519.6,624.3 L520.0,625.5 L520.4,626.8 L520.8,628.1 L521.2,629.3 L521.6,630.7 L522.0,632.0 L522.4,633.3 L522.8,634.7 L523.2,636.1 L523.6,637.5 L524.0,638.9 L524.4,640.3 L524.8,641.8 L525.2,643.2 L525.6,644.7 L526.0,646.2 L526.4,647.7 L526.8,649.2 L527.2,650.7 L527.6,652.3 L528.0,653.8 L528.4,655.4 L528.8,657.0 L529.2,658.6"/>
<path class="r" d="M83.4,622.6 L529.8,622.6"/>
</g>
<rect x="225.0" y="718.2" width="301.9" height="90.29999999999995" fill="#fff" stroke="#484848" stroke-width="1"/>
<line x1="233.6" y1="734.9" x2="275.3" y2="734.9" stroke="#0000ff" stroke-width="2.4"/>
<line x1="233.6" y1="763.3" x2="275.3" y2="763.3" stroke="#058005" stroke-width="2.4" stroke-dasharray="4.9 1.8"/>
<circle cx="254.9" cy="763.3" r="2.6" fill="#058005"/>
<line x1="233.6" y1="791.0" x2="275.3" y2="791.0" stroke="#ff0000" stroke-width="2.4" stroke-dasharray="1.9 1.9"/>
<circle cx="254.9" cy="791.0" r="2.9" fill="#ff0000"/>
<text x="280.5" y="742.8" class="lg">Bend-moment in plane 1</text>
<text x="280.5" y="771.7" class="lg">Bend-moment in plane 2</text>
<text x="280.5" y="800.7" class="lg">Torque</text>
<text x="306" y="869.7" text-anchor="middle" class="ax">Time (s)</text>
<text transform="translate(35,652.8) rotate(-90)" text-anchor="middle" textLength="227.5" lengthAdjust="spacing" class="ax">Element moment (Nm)</text>
<text y="909.0" class="cap"><tspan x="276.4">(</tspan><tspan x="286.6" font-weight="bold">b</tspan><tspan x="303.3">)</tspan></text>
</svg>
</body></html>
